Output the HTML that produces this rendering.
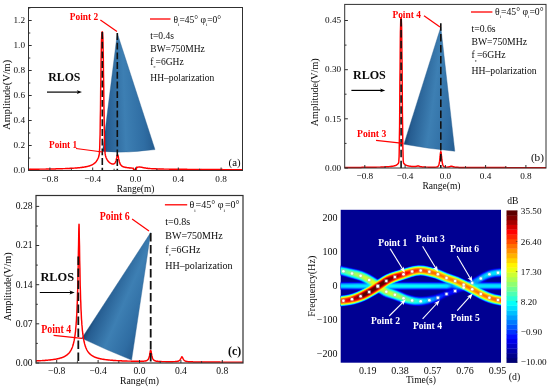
<!DOCTYPE html>
<html><head><meta charset="utf-8"><title>Figure</title>
<style>
html,body{margin:0;padding:0;background:#fff;}
svg{display:block;}
svg text{font-family:"Liberation Serif", serif;}
</style></head><body>
<svg width="550" height="389" viewBox="0 0 550 389" fill="#0a0a0a">
<rect width="550" height="389" fill="#fff"/>
<defs>
<linearGradient id="ga" gradientUnits="userSpaceOnUse" x1="102.5" y1="151.5" x2="155" y2="149.6"><stop offset="0" stop-color="#17406a"/><stop offset="0.1" stop-color="#265d91"/><stop offset="0.45" stop-color="#3d7fb3"/><stop offset="0.8" stop-color="#2f6da3"/><stop offset="1" stop-color="#255c90"/></linearGradient>
<linearGradient id="gb" gradientUnits="userSpaceOnUse" x1="403.9" y1="144.2" x2="454.8" y2="151.2"><stop offset="0" stop-color="#17406a"/><stop offset="0.1" stop-color="#265d91"/><stop offset="0.45" stop-color="#3d7fb3"/><stop offset="0.8" stop-color="#2f6da3"/><stop offset="1" stop-color="#255c90"/></linearGradient>
<linearGradient id="gc" gradientUnits="userSpaceOnUse" x1="81.8" y1="338.3" x2="131.6" y2="360.1"><stop offset="0" stop-color="#17406a"/><stop offset="0.1" stop-color="#265d91"/><stop offset="0.45" stop-color="#3d7fb3"/><stop offset="0.8" stop-color="#2f6da3"/><stop offset="1" stop-color="#255c90"/></linearGradient>
</defs>
<path d="M117.3 33.3 L102.5 151.5 Q128.8 153.4 155 149.6 Z" fill="url(#ga)" stroke="#2a5f90" stroke-width="0.4"/>
<path d="M28.5 169.3 L28.6 169.3 L28.8 169.3 L28.9 169.3 L29 169.3 L29.2 169.3 L29.3 169.3 L29.4 169.3 L29.6 169.3 L29.7 169.3 L29.8 169.3 L30 169.3 L30.1 169.3 L30.2 169.3 L30.4 169.3 L30.5 169.3 L30.6 169.3 L30.8 169.3 L30.9 169.3 L31 169.2 L31.2 169.2 L31.3 169.2 L31.4 169.2 L31.6 169.2 L31.7 169.2 L31.8 169.2 L32 169.2 L32.1 169.2 L32.2 169.2 L32.4 169.2 L32.5 169.2 L32.6 169.2 L32.8 169.2 L32.9 169.2 L33 169.2 L33.2 169.2 L33.3 169.2 L33.4 169.2 L33.6 169.2 L33.7 169.2 L33.9 169.2 L34 169.2 L34.1 169.2 L34.3 169.2 L34.4 169.2 L34.5 169.2 L34.7 169.2 L34.8 169.2 L34.9 169.2 L35.1 169.2 L35.2 169.2 L35.3 169.2 L35.5 169.2 L35.6 169.2 L35.7 169.2 L35.9 169.2 L36 169.2 L36.1 169.2 L36.3 169.2 L36.4 169.2 L36.5 169.2 L36.7 169.2 L36.8 169.2 L36.9 169.2 L37.1 169.2 L37.2 169.2 L37.3 169.2 L37.5 169.2 L37.6 169.2 L37.7 169.2 L37.9 169.2 L38 169.2 L38.1 169.2 L38.3 169.2 L38.4 169.2 L38.5 169.2 L38.7 169.2 L38.8 169.2 L38.9 169.2 L39.1 169.2 L39.2 169.2 L39.3 169.2 L39.5 169.1 L39.6 169.1 L39.7 169.1 L39.9 169.1 L40 169.1 L40.1 169.1 L40.3 169.1 L40.4 169.1 L40.5 169.1 L40.7 169.1 L40.8 169.1 L40.9 169.1 L41.1 169.1 L41.2 169.1 L41.3 169.1 L41.5 169.1 L41.6 169.1 L41.7 169.1 L41.9 169.1 L42 169.1 L42.1 169.1 L42.3 169.1 L42.4 169.1 L42.5 169.1 L42.7 169.1 L42.8 169.1 L42.9 169.1 L43.1 169.1 L43.2 169.1 L43.3 169.1 L43.5 169.1 L43.6 169.1 L43.7 169.1 L43.9 169.1 L44 169.1 L44.1 169.1 L44.3 169.1 L44.4 169.1 L44.5 169.1 L44.7 169.1 L44.8 169.1 L45 169.1 L45.1 169.1 L45.2 169.1 L45.4 169.1 L45.5 169.1 L45.6 169.1 L45.8 169.1 L45.9 169.1 L46 169 L46.2 169 L46.3 169 L46.4 169 L46.6 169 L46.7 169 L46.8 169 L47 169 L47.1 169 L47.2 169 L47.4 169 L47.5 169 L47.6 169 L47.8 169 L47.9 169 L48 169 L48.2 169 L48.3 169 L48.4 169 L48.6 169 L48.7 169 L48.8 169 L49 169 L49.1 169 L49.2 169 L49.4 169 L49.5 169 L49.6 169 L49.8 169 L49.9 169 L50 169 L50.2 169 L50.3 169 L50.4 169 L50.6 169 L50.7 169 L50.8 169 L51 169 L51.1 169 L51.2 169 L51.4 168.9 L51.5 168.9 L51.6 168.9 L51.8 168.9 L51.9 168.9 L52 168.9 L52.2 168.9 L52.3 168.9 L52.4 168.9 L52.6 168.9 L52.7 168.9 L52.8 168.9 L53 168.9 L53.1 168.9 L53.2 168.9 L53.4 168.9 L53.5 168.9 L53.6 168.9 L53.8 168.9 L53.9 168.9 L54 168.9 L54.2 168.9 L54.3 168.9 L54.4 168.9 L54.6 168.9 L54.7 168.9 L54.8 168.9 L55 168.9 L55.1 168.9 L55.2 168.9 L55.4 168.9 L55.5 168.9 L55.7 168.9 L55.8 168.8 L55.9 168.8 L56.1 168.8 L56.2 168.8 L56.3 168.8 L56.5 168.8 L56.6 168.8 L56.7 168.8 L56.9 168.8 L57 168.8 L57.1 168.8 L57.3 168.8 L57.4 168.8 L57.5 168.8 L57.7 168.8 L57.8 168.8 L57.9 168.8 L58.1 168.8 L58.2 168.8 L58.3 168.8 L58.5 168.8 L58.6 168.8 L58.7 168.8 L58.9 168.8 L59 168.8 L59.1 168.8 L59.3 168.8 L59.4 168.8 L59.5 168.7 L59.7 168.7 L59.8 168.7 L59.9 168.7 L60.1 168.7 L60.2 168.7 L60.3 168.7 L60.5 168.7 L60.6 168.7 L60.7 168.7 L60.9 168.7 L61 168.7 L61.1 168.7 L61.3 168.7 L61.4 168.7 L61.5 168.7 L61.7 168.7 L61.8 168.7 L61.9 168.7 L62.1 168.7 L62.2 168.7 L62.3 168.7 L62.5 168.7 L62.6 168.6 L62.7 168.6 L62.9 168.6 L63 168.6 L63.1 168.6 L63.3 168.6 L63.4 168.6 L63.5 168.6 L63.7 168.6 L63.8 168.6 L63.9 168.6 L64.1 168.6 L64.2 168.6 L64.3 168.6 L64.5 168.6 L64.6 168.6 L64.7 168.6 L64.9 168.6 L65 168.6 L65.1 168.6 L65.3 168.6 L65.4 168.5 L65.5 168.5 L65.7 168.5 L65.8 168.5 L66 168.5 L66.1 168.5 L66.2 168.5 L66.4 168.5 L66.5 168.5 L66.6 168.5 L66.8 168.5 L66.9 168.5 L67 168.5 L67.2 168.5 L67.3 168.5 L67.4 168.5 L67.6 168.5 L67.7 168.5 L67.8 168.4 L68 168.4 L68.1 168.4 L68.2 168.4 L68.4 168.4 L68.5 168.4 L68.6 168.4 L68.8 168.4 L68.9 168.4 L69 168.4 L69.2 168.4 L69.3 168.4 L69.4 168.4 L69.6 168.4 L69.7 168.4 L69.8 168.3 L70 168.3 L70.1 168.3 L70.2 168.3 L70.4 168.3 L70.5 168.3 L70.6 168.3 L70.8 168.3 L70.9 168.3 L71 168.3 L71.2 168.3 L71.3 168.3 L71.4 168.3 L71.6 168.3 L71.7 168.2 L71.8 168.2 L72 168.2 L72.1 168.2 L72.2 168.2 L72.4 168.2 L72.5 168.2 L72.6 168.2 L72.8 168.2 L72.9 168.2 L73 168.2 L73.2 168.2 L73.3 168.2 L73.4 168.1 L73.6 168.1 L73.7 168.1 L73.8 168.1 L74 168.1 L74.1 168.1 L74.2 168.1 L74.4 168.1 L74.5 168.1 L74.6 168.1 L74.8 168.1 L74.9 168 L75 168 L75.2 168 L75.3 168 L75.4 168 L75.6 168 L75.7 168 L75.8 168 L76 168 L76.1 168 L76.2 167.9 L76.4 167.9 L76.5 167.9 L76.7 167.9 L76.8 167.9 L76.9 167.9 L77.1 167.9 L77.2 167.9 L77.3 167.9 L77.5 167.8 L77.6 167.8 L77.7 167.8 L77.9 167.8 L78 167.8 L78.1 167.8 L78.3 167.8 L78.4 167.8 L78.5 167.7 L78.7 167.7 L78.8 167.7 L78.9 167.7 L79.1 167.7 L79.2 167.7 L79.3 167.7 L79.5 167.7 L79.6 167.6 L79.7 167.6 L79.9 167.6 L80 167.6 L80.1 167.6 L80.3 167.6 L80.4 167.6 L80.5 167.5 L80.7 167.5 L80.8 167.5 L80.9 167.5 L81.1 167.5 L81.2 167.5 L81.3 167.4 L81.5 167.4 L81.6 167.4 L81.7 167.4 L81.9 167.4 L82 167.4 L82.1 167.3 L82.3 167.3 L82.4 167.3 L82.5 167.3 L82.7 167.3 L82.8 167.3 L82.9 167.2 L83.1 167.2 L83.2 167.2 L83.3 167.2 L83.5 167.2 L83.6 167.1 L83.7 167.1 L83.9 167.1 L84 167.1 L84.1 167.1 L84.3 167 L84.4 167 L84.5 167 L84.7 167 L84.8 166.9 L84.9 166.9 L85.1 166.9 L85.2 166.9 L85.3 166.8 L85.5 166.8 L85.6 166.8 L85.7 166.8 L85.9 166.7 L86 166.7 L86.1 166.7 L86.3 166.7 L86.4 166.6 L86.5 166.6 L86.7 166.6 L86.8 166.5 L86.9 166.5 L87.1 166.5 L87.2 166.5 L87.3 166.4 L87.5 166.4 L87.6 166.4 L87.8 166.3 L87.9 166.3 L88 166.3 L88.2 166.2 L88.3 166.2 L88.4 166.2 L88.6 166.1 L88.7 166.1 L88.8 166 L89 166 L89.1 166 L89.2 165.9 L89.4 165.9 L89.5 165.8 L89.6 165.8 L89.8 165.7 L89.9 165.7 L90 165.7 L90.2 165.6 L90.3 165.6 L90.4 165.5 L90.6 165.5 L90.7 165.4 L90.8 165.4 L91 165.3 L91.1 165.3 L91.2 165.2 L91.4 165.1 L91.5 165.1 L91.6 165 L91.8 165 L91.9 164.9 L92 164.8 L92.2 164.8 L92.3 164.7 L92.4 164.6 L92.6 164.6 L92.7 164.5 L92.8 164.4 L93 164.3 L93.1 164.2 L93.2 164.2 L93.4 164.1 L93.5 164 L93.6 163.9 L93.8 163.8 L93.9 163.7 L94 163.6 L94.2 163.5 L94.3 163.4 L94.4 163.3 L94.6 163.2 L94.7 163.1 L94.8 163 L95 162.9 L95.1 162.7 L95.2 162.6 L95.4 162.5 L95.5 162.3 L95.6 162.2 L95.8 162 L95.9 161.9 L96 161.7 L96.2 161.6 L96.3 161.4 L96.4 161.2 L96.6 161 L96.7 160.8 L96.8 160.6 L97 160.4 L97.1 160.2 L97.2 160 L97.4 159.7 L97.5 159.5 L97.6 159.2 L97.8 158.9 L97.9 158.7 L98 158.4 L98.2 158 L98.3 157.7 L98.5 157.4 L98.6 157 L98.7 156.6 L98.9 156.1 L99 155.6 L99.1 154.9 L99.3 153.9 L99.4 152.6 L99.5 150.8 L99.7 148.3 L99.8 144.7 L99.9 140.1 L100.1 134.2 L100.2 126.9 L100.3 118.4 L100.5 108.9 L100.6 98.7 L100.7 88.1 L100.9 77.7 L101 67.9 L101.1 59 L101.3 51.2 L101.4 44.9 L101.5 40 L101.7 36.4 L101.8 34 L101.9 32.6 L102.1 31.9 L102.2 31.8 L102.3 31.8 L102.5 32.3 L102.6 33.3 L102.7 35.3 L102.9 38.4 L103 42.7 L103.1 48.5 L103.3 55.7 L103.4 64.1 L103.5 73.6 L103.7 83.9 L103.8 94.4 L103.9 104.8 L104.1 114.7 L104.2 123.6 L104.3 131.4 L104.5 137.8 L104.6 143 L104.7 146.9 L104.9 149.8 L105 151.9 L105.1 153.4 L105.3 154.4 L105.4 155.2 L105.5 155.8 L105.7 156.3 L105.8 156.7 L105.9 157.1 L106.1 157.4 L106.2 157.8 L106.3 158.1 L106.5 158.4 L106.6 158.7 L106.7 159 L106.9 159.2 L107 159.5 L107.1 159.7 L107.3 159.9 L107.4 160.1 L107.5 160.3 L107.7 160.5 L107.8 160.7 L107.9 160.9 L108.1 161.1 L108.2 161.3 L108.3 161.4 L108.5 161.6 L108.6 161.7 L108.8 161.9 L108.9 162 L109 162.1 L109.2 162.2 L109.3 162.4 L109.4 162.5 L109.6 162.6 L109.7 162.7 L109.8 162.8 L110 162.9 L110.1 163 L110.2 163.1 L110.4 163.2 L110.5 163.2 L110.6 163.3 L110.8 163.4 L110.9 163.4 L111 163.5 L111.2 163.6 L111.3 163.6 L111.4 163.7 L111.6 163.7 L111.7 163.8 L111.8 163.8 L112 163.9 L112.1 163.9 L112.2 163.9 L112.4 164 L112.5 164 L112.6 164 L112.8 164 L112.9 164 L113 164 L113.2 164 L113.3 164 L113.4 164 L113.6 164 L113.7 163.9 L113.8 163.9 L114 163.8 L114.1 163.8 L114.2 163.7 L114.4 163.6 L114.5 163.5 L114.6 163.4 L114.8 163.3 L114.9 163.1 L115 162.9 L115.2 162.7 L115.3 162.5 L115.4 162.2 L115.6 161.9 L115.7 161.6 L115.8 161.2 L116 160.8 L116.1 160.4 L116.2 159.9 L116.4 159.3 L116.5 158.7 L116.6 158.1 L116.8 157.4 L116.9 156.8 L117 156.2 L117.2 155.6 L117.3 155.1 L117.4 154.8 L117.6 154.7 L117.7 154.8 L117.8 155 L118 155.4 L118.1 155.9 L118.2 156.5 L118.4 157.2 L118.5 157.9 L118.6 158.7 L118.8 159.3 L118.9 160 L119 160.6 L119.2 161.2 L119.3 161.7 L119.5 162.1 L119.6 162.6 L119.7 162.9 L119.9 163.3 L120 163.6 L120.1 163.9 L120.3 164.1 L120.4 164.4 L120.5 164.6 L120.7 164.8 L120.8 165 L120.9 165.1 L121.1 165.3 L121.2 165.4 L121.3 165.5 L121.5 165.7 L121.6 165.8 L121.7 165.9 L121.9 166 L122 166.1 L122.1 166.2 L122.3 166.2 L122.4 166.3 L122.5 166.4 L122.7 166.4 L122.8 166.5 L122.9 166.6 L123.1 166.6 L123.2 166.7 L123.3 166.7 L123.5 166.8 L123.6 166.8 L123.7 166.9 L123.9 166.9 L124 166.9 L124.1 167 L124.3 167 L124.4 167.1 L124.5 167.1 L124.7 167.1 L124.8 167.2 L124.9 167.2 L125.1 167.2 L125.2 167.2 L125.3 167.3 L125.5 167.3 L125.6 167.3 L125.7 167.4 L125.9 167.4 L126 167.4 L126.1 167.4 L126.3 167.4 L126.4 167.5 L126.5 167.5 L126.7 167.5 L126.8 167.5 L126.9 167.6 L127.1 167.6 L127.2 167.6 L127.3 167.6 L127.5 167.6 L127.6 167.6 L127.7 167.7 L127.9 167.7 L128 167.7 L128.1 167.7 L128.3 167.7 L128.4 167.7 L128.5 167.8 L128.7 167.8 L128.8 167.8 L128.9 167.8 L129.1 167.8 L129.2 167.8 L129.3 167.9 L129.5 167.9 L129.6 167.9 L129.7 167.9 L129.9 167.9 L130 167.9 L130.2 167.9 L130.3 167.9 L130.4 168 L130.6 168 L130.7 168 L130.8 168 L131 168 L131.1 168 L131.2 168 L131.4 168 L131.5 168 L131.6 168.1 L131.8 168.1 L131.9 168.1 L132 168.1 L132.2 168.1 L132.3 168.1 L132.4 168.1 L132.6 168.1 L132.7 168.1 L132.8 168.2 L133 168.2 L133.1 168.2 L133.2 168.2 L133.4 168.2 L133.5 169.5 L133.6 169.5 L133.8 169.5 L133.9 169.5 L134 169.5 L134.2 169.5 L134.3 169.5 L134.4 169.5 L134.6 169.5 L134.7 169.5 L134.8 169.5 L135 169.5 L135.1 169.5 L135.2 169.5 L135.4 169.5 L135.5 169.5 L135.6 169.2 L135.8 169.2 L135.9 169.2 L136 169.2 L136.2 169.2 L136.3 169.2 L136.4 169.2 L136.6 167.3 L136.7 167.3 L136.8 167.2 L137 167.2 L137.1 167.2 L137.2 167.2 L137.4 167.2 L137.5 167.2 L137.6 167.1 L137.8 167.1 L137.9 167.1 L138 167.1 L138.2 167.1 L138.3 167.1 L138.4 167.1 L138.6 167.1 L138.7 167 L138.8 167 L139 167 L139.1 167 L139.2 167 L139.4 167 L139.5 167 L139.6 167 L139.8 167 L139.9 167 L140 167 L140.2 167.1 L140.3 167.1 L140.4 167.1 L140.6 167.1 L140.7 167.1 L140.9 167.1 L141 167.2 L141.1 167.2 L141.3 167.2 L141.4 167.2 L141.5 167.2 L141.7 167.3 L141.8 167.3 L141.9 167.3 L142.1 167.4 L142.2 167.4 L142.3 167.4 L142.5 167.4 L142.6 167.5 L142.7 167.5 L142.9 167.5 L143 167.6 L143.1 167.6 L143.3 167.6 L143.4 167.6 L143.5 167.7 L143.7 167.7 L143.8 167.7 L143.9 167.7 L144.1 167.8 L144.2 167.8 L144.3 167.8 L144.5 167.9 L144.6 167.9 L144.7 167.9 L144.9 167.9 L145 168 L145.1 168 L145.3 168 L145.4 168 L145.5 168 L145.7 168.1 L145.8 168.1 L145.9 168.1 L146.1 168.1 L146.2 168.1 L146.3 168.2 L146.5 168.2 L146.6 168.2 L146.7 168.2 L146.9 168.2 L147 168.3 L147.1 168.3 L147.3 168.3 L147.4 168.3 L147.5 168.3 L147.7 168.3 L147.8 168.3 L147.9 168.4 L148.1 168.4 L148.2 168.4 L148.3 168.4 L148.5 168.4 L148.6 168.4 L148.7 168.4 L148.9 168.4 L149 168.5 L149.1 168.5 L149.3 168.5 L149.4 168.5 L149.5 168.5 L149.7 168.5 L149.8 168.5 L149.9 168.5 L150.1 168.5 L150.2 168.6 L150.3 168.6 L150.5 168.6 L150.6 168.6 L150.7 168.6 L150.9 168.6 L151 168.6 L151.1 168.6 L151.3 168.6 L151.4 168.6 L151.6 168.6 L151.7 168.7 L151.8 168.7 L152 168.7 L152.1 168.7 L152.2 168.7 L152.4 168.7 L152.5 168.7 L152.6 168.7 L152.8 168.7 L152.9 168.7 L153 168.7 L153.2 168.7 L153.3 168.7 L153.4 168.7 L153.6 168.7 L153.7 168.8 L153.8 168.8 L154 168.8 L154.1 168.8 L154.2 168.8 L154.4 168.8 L154.5 168.8 L154.6 168.8 L154.8 168.8 L154.9 168.8 L155 168.8 L155.2 168.8 L155.3 168.8 L155.4 168.8 L155.6 168.8 L155.7 168.8 L155.8 168.8 L156 168.8 L156.1 168.8 L156.2 168.9 L156.4 168.9 L156.5 168.9 L156.6 168.9 L156.8 168.9 L156.9 168.9 L157 168.9 L157.2 168.9 L157.3 168.9 L157.4 168.9 L157.6 168.9 L157.7 168.9 L157.8 168.9 L158 168.9 L158.1 168.9 L158.2 168.9 L158.4 168.9 L158.5 168.9 L158.6 168.9 L158.8 168.9 L158.9 168.9 L159 168.9 L159.2 168.9 L159.3 168.9 L159.4 169 L159.6 169 L159.7 169 L159.8 169 L160 169 L160.1 169 L160.2 169 L160.4 169 L160.5 169 L160.6 169 L160.8 169 L160.9 169 L161 169 L161.2 169 L161.3 169 L161.4 169 L161.6 169 L161.7 169 L161.8 169 L162 169 L162.1 169 L162.2 169 L162.4 169 L162.5 169 L162.7 169 L162.8 169 L162.9 169 L163.1 169 L163.2 169 L163.3 169 L163.5 169 L163.6 169 L163.7 169.1 L163.9 169.1 L164 169.1 L164.1 169.1 L164.3 169.1 L164.4 169.1 L164.5 169.1 L164.7 169.1 L164.8 169.1 L164.9 169.1 L165.1 169.1 L165.2 169.1 L165.3 169.1 L165.5 169.1 L165.6 169.1 L165.7 169.1 L165.9 169.1 L166 169.1 L166.1 169.1 L166.3 169.1 L166.4 169.1 L166.5 169.1 L166.7 169.1 L166.8 169.1 L166.9 169.1 L167.1 169.1 L167.2 169.1 L167.3 169.1 L167.5 169.1 L167.6 169.1 L167.7 169.1 L167.9 169.1 L168 169.1 L168.1 169.1 L168.3 169.1 L168.4 169.1 L168.5 169.1 L168.7 169.1 L168.8 169.1 L168.9 169.1 L169.1 169.1 L169.2 169.1 L169.3 169.2 L169.5 169.2 L169.6 169.2 L169.7 169.2 L169.9 169.2 L170 169.2 L170.1 169.2 L170.3 169.2 L170.4 169.2 L170.5 169.2 L170.7 169.2 L170.8 169.2 L170.9 169.2 L171.1 169.2 L171.2 169.2 L171.3 169.2 L171.5 169.2 L171.6 169.2 L171.7 169.2 L171.9 169.2 L172 169.2 L172.1 169.2 L172.3 169.2 L172.4 169.2 L172.5 169.2 L172.7 169.2 L172.8 169.2 L173 169.2 L173.1 169.2 L173.2 169.2 L173.4 169.2 L173.5 169.2 L173.6 169.2 L173.8 169.2 L173.9 169.2 L174 169.2 L174.2 169.2 L174.3 169.2 L174.4 169.2 L174.6 169.2 L174.7 169.2 L174.8 169.2 L175 169.2 L175.1 169.2 L175.2 169.2 L175.4 169.2 L175.5 169.2 L175.6 169.2 L175.8 169.2 L175.9 169.2 L176 169.2 L176.2 169.2 L176.3 169.2 L176.4 169.2 L176.6 169.2 L176.7 169.2 L176.8 169.2 L177 169.3 L177.1 169.3 L177.2 169.3 L177.4 169.3 L177.5 169.3 L177.6 169.3 L177.8 169.3 L177.9 169.3 L178 169.3 L178.2 169.3 L178.3 169.3 L178.4 169.3 L178.6 169.3 L178.7 169.3 L178.8 169.3 L179 169.3 L179.1 169.3 L179.2 169.3 L179.4 169.3 L179.5 169.3 L179.6 169.3 L179.8 169.3 L179.9 169.3 L180 169.3 L180.2 169.3 L180.3 169.3 L180.4 169.3 L180.6 169.3 L180.7 169.3 L180.8 169.3 L181 169.3 L181.1 169.3 L181.2 169.3 L181.4 169.3 L181.5 169.3 L181.6 169.3 L181.8 169.3 L181.9 169.3 L182 169.3 L182.2 169.3 L182.3 169.3 L182.4 169.3 L182.6 169.3 L182.7 169.3 L182.8 169.3 L183 169.3 L183.1 169.3 L183.2 169.3 L183.4 169.3 L183.5 169.3 L183.7 169.3 L183.8 169.3 L183.9 169.3 L184.1 169.3 L184.2 169.3 L184.3 169.3 L184.5 169.3 L184.6 169.3 L184.7 169.3 L184.9 169.3 L185 169.3 L185.1 169.3 L185.3 169.3 L185.4 169.3 L185.5 169.3 L185.7 169.3 L185.8 169.3 L185.9 169.3 L186.1 169.3 L186.2 169.3 L186.3 169.3 L186.5 169.3 L186.6 169.3 L186.7 169.3 L186.9 169.3 L187 169.3 L187.1 169.3 L187.3 169.4 L187.4 169.4 L187.5 169.4 L187.7 169.4 L187.8 169.4 L187.9 169.4 L188.1 169.4 L188.2 169.4 L188.3 169.4 L188.5 169.4 L188.6 169.4 L188.7 169.4 L188.9 169.4 L189 169.4 L189.1 169.4 L189.3 169.4 L189.4 169.4 L189.5 169.4 L189.7 169.4 L189.8 169.4 L189.9 169.4 L190.1 169.4 L190.2 169.4 L190.3 169.4 L190.5 169.4 L190.6 169.4 L190.7 169.4 L190.9 169.4 L191 169.4 L191.1 169.4 L191.3 169.4 L191.4 169.4 L191.5 169.4 L191.7 169.4 L191.8 169.4 L191.9 169.4 L192.1 169.4 L192.2 169.4 L192.3 169.4 L192.5 169.4 L192.6 169.4 L192.7 169.4 L192.9 169.4 L193 169.4 L193.1 169.4 L193.3 169.4 L193.4 169.4 L193.5 169.4 L193.7 169.4 L193.8 169.4 L193.9 169.4 L194.1 169.4 L194.2 169.4 L194.3 169.4 L194.5 169.4 L194.6 169.4 L194.8 169.4 L194.9 169.4 L195 169.4 L195.2 169.4 L195.3 169.4 L195.4 169.4 L195.6 169.4 L195.7 169.4 L195.8 169.4 L196 169.4 L196.1 169.4 L196.2 169.4 L196.4 169.4 L196.5 169.4 L196.6 169.4 L196.8 169.4 L196.9 169.4 L197 169.4 L197.2 169.4 L197.3 169.4 L197.4 169.4 L197.6 169.4 L197.7 169.4 L197.8 169.4 L198 169.4 L198.1 169.4 L198.2 169.4 L198.4 169.4 L198.5 169.4 L198.6 169.4 L198.8 169.4 L198.9 169.4 L199 169.4 L199.2 169.4 L199.3 169.4 L199.4 169.4 L199.6 169.4 L199.7 169.4 L199.8 169.4 L200 169.4 L200.1 169.4 L200.2 169.4 L200.4 169.4 L200.5 169.4 L200.6 169.4 L200.8 169.4 L200.9 169.4 L201 169.4 L201.2 169.4 L201.3 169.4 L201.4 169.4 L201.6 169.4 L201.7 169.5 L201.8 169.5 L202 169.5 L202.1 169.5 L202.2 169.5 L202.4 169.5 L202.5 169.5 L202.6 169.5 L202.8 169.5 L202.9 169.5 L203 169.5 L203.2 169.5 L203.3 169.5 L203.4 169.5 L203.6 169.5 L203.7 169.5 L203.8 169.5 L204 169.5 L204.1 169.5 L204.2 169.5 L204.4 169.5 L204.5 169.5 L204.6 169.5 L204.8 169.5 L204.9 169.5 L205.1 169.5 L205.2 169.5 L205.3 169.5 L205.5 169.5 L205.6 169.5 L205.7 169.5 L205.9 169.5 L206 169.5 L206.1 169.5 L206.3 169.5 L206.4 169.5 L206.5 169.5 L206.7 169.5 L206.8 169.5 L206.9 169.5 L207.1 169.5 L207.2 169.5 L207.3 169.5 L207.5 169.5 L207.6 169.5 L207.7 169.5 L207.9 169.5 L208 169.5 L208.1 169.5 L208.3 169.5 L208.4 169.5 L208.5 169.5 L208.7 169.5 L208.8 169.5 L208.9 169.5 L209.1 169.5 L209.2 169.5 L209.3 169.5 L209.5 169.5 L209.6 169.5 L209.7 169.5 L209.9 169.5 L210 169.5 L210.1 169.5 L210.3 169.5 L210.4 169.5 L210.5 169.5 L210.7 169.5 L210.8 169.5 L210.9 169.5 L211.1 169.5 L211.2 169.5 L211.3 169.5 L211.5 169.5 L211.6 169.5 L211.7 169.5 L211.9 169.5 L212 169.5 L212.1 169.5 L212.3 169.5 L212.4 169.5 L212.5 169.5 L212.7 169.5 L212.8 169.5 L212.9 169.5 L213.1 169.5 L213.2 169.5 L213.3 169.5 L213.5 169.5 L213.6 169.5 L213.7 169.5 L213.9 169.5 L214 169.5 L214.1 169.5 L214.3 169.5 L214.4 169.5 L214.5 169.5 L214.7 169.5 L214.8 169.5 L214.9 169.5 L215.1 169.5 L215.2 169.5 L215.3 169.5 L215.5 169.5 L215.6 169.5 L215.8 169.5 L215.9 169.5 L216 169.5 L216.2 169.5 L216.3 169.5 L216.4 169.5 L216.6 169.5 L216.7 169.5 L216.8 169.5 L217 169.5 L217.1 169.5 L217.2 169.5 L217.4 169.5 L217.5 169.5 L217.6 169.5 L217.8 169.5 L217.9 169.5 L218 169.5 L218.2 169.5 L218.3 169.5 L218.4 169.5 L218.6 169.5 L218.7 169.5 L218.8 169.5 L219 169.5 L219.1 169.5 L219.2 169.5 L219.4 169.5 L219.5 169.5 L219.6 169.5 L219.8 169.5 L219.9 169.5 L220 169.5 L220.2 169.5 L220.3 169.5 L220.4 169.5 L220.6 169.5 L220.7 169.5 L220.8 169.5 L221 169.5 L221.1 169.5 L221.2 169.5 L221.4 169.5 L221.5 169.5 L221.6 169.5 L221.8 169.5 L221.9 169.5 L222 169.5 L222.2 169.5 L222.3 169.5 L222.4 169.5 L222.6 169.5 L222.7 169.5 L222.8 169.6 L223 169.6 L223.1 169.6 L223.2 169.6 L223.4 169.6 L223.5 169.6 L223.6 169.6 L223.8 169.6 L223.9 169.6 L224 169.6 L224.2 169.6 L224.3 169.6 L224.4 169.6 L224.6 169.6 L224.7 169.6 L224.8 169.6 L225 169.6 L225.1 169.6 L225.2 169.6 L225.4 169.6 L225.5 169.6 L225.6 169.6 L225.8 169.6 L225.9 169.6 L226 169.6 L226.2 169.6 L226.3 169.6 L226.5 169.6 L226.6 169.6 L226.7 169.6 L226.9 169.6 L227 169.6 L227.1 169.6 L227.3 169.6 L227.4 169.6 L227.5 169.6 L227.7 169.6 L227.8 169.6 L227.9 169.6 L228.1 169.6 L228.2 169.6 L228.3 169.6 L228.5 169.6 L228.6 169.6 L228.7 169.6 L228.9 169.6 L229 169.6 L229.1 169.6 L229.3 169.6 L229.4 169.6 L229.5 169.6 L229.7 169.6 L229.8 169.6 L229.9 169.6 L230.1 169.6 L230.2 169.6 L230.3 169.6 L230.5 169.6 L230.6 169.6 L230.7 169.6 L230.9 169.6 L231 169.6 L231.1 169.6 L231.3 169.6 L231.4 169.6 L231.5 169.6 L231.7 169.6 L231.8 169.6 L231.9 169.6 L232.1 169.6 L232.2 169.6 L232.3 169.6 L232.5 169.6 L232.6 169.6 L232.7 169.6 L232.9 169.6 L233 169.6 L233.1 169.6 L233.3 169.6 L233.4 169.6 L233.5 169.6 L233.7 169.6 L233.8 169.6 L233.9 169.6 L234.1 169.6 L234.2 169.6 L234.3 169.6 L234.5 169.6 L234.6 169.6 L234.7 169.6 L234.9 169.6 L235 169.6 L235.1 169.6 L235.3 169.6 L235.4 169.6 L235.5 169.6 L235.7 169.6 L235.8 169.6 L235.9 169.6 L236.1 169.6 L236.2 169.6 L236.3 169.6 L236.5 169.6 L236.6 169.6 L236.7 169.6 L236.9 169.6 L237 169.6 L237.2 169.6 L237.3 169.6 L237.4 169.6 L237.6 169.6 L237.7 169.6 L237.8 169.6 L238 169.6 L238.1 169.6 L238.2 169.6 L238.4 169.6 L238.5 169.6 L238.6 169.6 L238.8 169.6 L238.9 169.6 L239 169.6 L239.2 169.6 L239.3 169.6 L239.4 169.6 L239.6 169.6 L239.7 169.6 L239.8 169.6 L240 169.6 L240.1 169.6 L240.2 169.6 L240.4 169.6 L240.5 169.6 L240.6 169.6 L240.8 169.6 L240.9 169.6 L241 169.6 L241.2 169.6 L241.3 169.6 L241.4 169.6 L241.6 169.6 L241.7 169.6 L241.8 169.6 L242 169.6 L242.1 169.6 L242.2 169.6 L242.4 169.6 L242.5 169.6" fill="none" stroke="#f00" stroke-width="1.45" stroke-linejoin="round"/>
<line x1="102.3" y1="32" x2="102.3" y2="170.5" stroke="#111" stroke-width="1.6" stroke-dasharray="6.9 2.8"/>
<line x1="117.3" y1="33" x2="117.3" y2="170.5" stroke="#111" stroke-width="1.6" stroke-dasharray="6.9 2.8"/>
<rect x="28.5" y="7.5" width="214" height="163" fill="none" stroke="#303030" stroke-width="1"/>
<line x1="49.9" y1="170.5" x2="49.9" y2="167.5" stroke="#303030" stroke-width="1"/>
<text x="49.9" y="181.5" font-size="9.2" text-anchor="middle">−0.8</text>
<line x1="92.7" y1="170.5" x2="92.7" y2="167.5" stroke="#303030" stroke-width="1"/>
<text x="92.7" y="181.5" font-size="9.2" text-anchor="middle">−0.4</text>
<line x1="135.5" y1="170.5" x2="135.5" y2="167.5" stroke="#303030" stroke-width="1"/>
<text x="135.5" y="181.5" font-size="9.2" text-anchor="middle">0.0</text>
<line x1="178.3" y1="170.5" x2="178.3" y2="167.5" stroke="#303030" stroke-width="1"/>
<text x="178.3" y="181.5" font-size="9.2" text-anchor="middle">0.4</text>
<line x1="221.1" y1="170.5" x2="221.1" y2="167.5" stroke="#303030" stroke-width="1"/>
<text x="221.1" y="181.5" font-size="9.2" text-anchor="middle">0.8</text>
<line x1="71.3" y1="170.5" x2="71.3" y2="168.7" stroke="#303030" stroke-width="1"/>
<line x1="114.1" y1="170.5" x2="114.1" y2="168.7" stroke="#303030" stroke-width="1"/>
<line x1="156.9" y1="170.5" x2="156.9" y2="168.7" stroke="#303030" stroke-width="1"/>
<line x1="199.7" y1="170.5" x2="199.7" y2="168.7" stroke="#303030" stroke-width="1"/>
<line x1="28.5" y1="170.5" x2="31.7" y2="170.5" stroke="#303030" stroke-width="1"/>
<text x="25" y="173.2" font-size="9.2" text-anchor="end">0.0</text>
<line x1="28.5" y1="145.5" x2="31.7" y2="145.5" stroke="#303030" stroke-width="1"/>
<text x="25" y="148.2" font-size="9.2" text-anchor="end">0.2</text>
<line x1="28.5" y1="120.5" x2="31.7" y2="120.5" stroke="#303030" stroke-width="1"/>
<text x="25" y="123.2" font-size="9.2" text-anchor="end">0.4</text>
<line x1="28.5" y1="95.5" x2="31.7" y2="95.5" stroke="#303030" stroke-width="1"/>
<text x="25" y="98.2" font-size="9.2" text-anchor="end">0.6</text>
<line x1="28.5" y1="70.5" x2="31.7" y2="70.5" stroke="#303030" stroke-width="1"/>
<text x="25" y="73.2" font-size="9.2" text-anchor="end">0.8</text>
<line x1="28.5" y1="45.5" x2="31.7" y2="45.5" stroke="#303030" stroke-width="1"/>
<text x="25" y="48.2" font-size="9.2" text-anchor="end">1.0</text>
<line x1="28.5" y1="20.5" x2="31.7" y2="20.5" stroke="#303030" stroke-width="1"/>
<text x="25" y="23.2" font-size="9.2" text-anchor="end">1.2</text>
<line x1="28.5" y1="158" x2="30.3" y2="158" stroke="#303030" stroke-width="1"/>
<line x1="28.5" y1="133" x2="30.3" y2="133" stroke="#303030" stroke-width="1"/>
<line x1="28.5" y1="108" x2="30.3" y2="108" stroke="#303030" stroke-width="1"/>
<line x1="28.5" y1="83" x2="30.3" y2="83" stroke="#303030" stroke-width="1"/>
<line x1="28.5" y1="58" x2="30.3" y2="58" stroke="#303030" stroke-width="1"/>
<line x1="28.5" y1="33" x2="30.3" y2="33" stroke="#303030" stroke-width="1"/>
<line x1="28.5" y1="8" x2="30.3" y2="8" stroke="#303030" stroke-width="1"/>
<text x="135.6" y="191.5" font-size="9.4" text-anchor="middle">Range(m)</text>
<text transform="translate(9.9 94.8) rotate(-90)" font-size="10.4" text-anchor="middle">Amplitude(V/m)</text>
<line x1="150" y1="19" x2="170.5" y2="19" stroke="#f00" stroke-width="1.3"/>
<text x="173.5" y="22.5" font-size="9.5">θ<tspan font-size="4.8" dy="3.1">i</tspan><tspan dy="-3.1">=45° φ</tspan><tspan font-size="4.8" dy="3.1">i</tspan><tspan dy="-3.1">=0°</tspan></text>
<text x="150.3" y="38.7" font-size="9.5">t=0.4s</text>
<text x="150.3" y="51.7" font-size="9.5">BW=750MHz</text>
<text x="150.3" y="65.3" font-size="9.5">f<tspan font-size="4.8" dy="3.1">c</tspan><tspan dy="-3.1">=6GHz</tspan></text>
<text x="150.3" y="81" font-size="9.5">HH–polarization</text>
<text transform="translate(48.3 81) scale(1 1.08)" font-size="11.8" font-weight="bold">RLOS</text>
<line x1="47" y1="92.1" x2="79" y2="92.1" stroke="#000" stroke-width="1.2"/>
<path d="M82 92.1 l-5.2 -1.9 l1.2 1.9 l-1.2 1.9z" fill="#000"/>
<text transform="translate(69.8 20.2) scale(1 1.1)" font-size="9.4" font-weight="bold" fill="#f00">Point 2</text>
<line x1="100.4" y1="20" x2="117" y2="31.5" stroke="#f00" stroke-width="1.2"/>
<text transform="translate(49 147.6) scale(1 1.1)" font-size="9.3" font-weight="bold" fill="#f00">Point 1</text>
<line x1="76" y1="148.5" x2="102.5" y2="152" stroke="#f00" stroke-width="1.2"/>
<text x="228.6" y="165.8" font-size="10.8">(a)</text>
<path d="M440.8 27 L403.9 144.2 Q429.2 148.9 454.8 151.2 Z" fill="url(#gb)" stroke="#2a5f90" stroke-width="0.4"/>
<path d="M344.7 167.4 L344.8 167.4 L345 167.4 L345.1 167.4 L345.2 167.4 L345.3 167.4 L345.5 167.4 L345.6 167.4 L345.7 167.4 L345.8 167.4 L346 167.4 L346.1 167.4 L346.2 167.4 L346.3 167.4 L346.5 167.4 L346.6 167.4 L346.7 167.4 L346.8 167.4 L347 167.4 L347.1 167.4 L347.2 167.4 L347.3 167.4 L347.5 167.4 L347.6 167.4 L347.7 167.4 L347.8 167.4 L348 167.4 L348.1 167.4 L348.2 167.4 L348.3 167.4 L348.5 167.4 L348.6 167.4 L348.7 167.4 L348.9 167.4 L349 167.4 L349.1 167.4 L349.2 167.4 L349.4 167.4 L349.5 167.4 L349.6 167.4 L349.7 167.4 L349.9 167.4 L350 167.4 L350.1 167.4 L350.2 167.4 L350.4 167.4 L350.5 167.4 L350.6 167.4 L350.7 167.4 L350.9 167.4 L351 167.4 L351.1 167.4 L351.2 167.4 L351.4 167.4 L351.5 167.4 L351.6 167.4 L351.7 167.4 L351.9 167.4 L352 167.4 L352.1 167.4 L352.2 167.4 L352.4 167.4 L352.5 167.4 L352.6 167.4 L352.8 167.4 L352.9 167.4 L353 167.4 L353.1 167.4 L353.3 167.4 L353.4 167.4 L353.5 167.4 L353.6 167.4 L353.8 167.4 L353.9 167.4 L354 167.4 L354.1 167.4 L354.3 167.4 L354.4 167.4 L354.5 167.4 L354.6 167.4 L354.8 167.4 L354.9 167.4 L355 167.4 L355.1 167.4 L355.3 167.4 L355.4 167.4 L355.5 167.4 L355.6 167.4 L355.8 167.4 L355.9 167.4 L356 167.4 L356.1 167.4 L356.3 167.4 L356.4 167.4 L356.5 167.4 L356.7 167.4 L356.8 167.4 L356.9 167.4 L357 167.4 L357.2 167.4 L357.3 167.4 L357.4 167.4 L357.5 167.4 L357.7 167.4 L357.8 167.4 L357.9 167.4 L358 167.4 L358.2 167.4 L358.3 167.4 L358.4 167.4 L358.5 167.4 L358.7 167.4 L358.8 167.4 L358.9 167.4 L359 167.4 L359.2 167.4 L359.3 167.4 L359.4 167.4 L359.5 167.4 L359.7 167.4 L359.8 167.4 L359.9 167.4 L360 167.4 L360.2 167.4 L360.3 167.4 L360.4 167.4 L360.6 167.4 L360.7 167.4 L360.8 167.4 L360.9 167.4 L361.1 167.4 L361.2 167.4 L361.3 167.4 L361.4 167.4 L361.6 167.3 L361.7 167.3 L361.8 167.3 L361.9 167.3 L362.1 167.3 L362.2 167.3 L362.3 167.3 L362.4 167.3 L362.6 167.3 L362.7 167.3 L362.8 167.3 L362.9 167.3 L363.1 167.3 L363.2 167.3 L363.3 167.3 L363.4 167.3 L363.6 167.3 L363.7 167.3 L363.8 167.3 L363.9 167.3 L364.1 167.3 L364.2 167.3 L364.3 167.3 L364.5 167.3 L364.6 167.3 L364.7 167.3 L364.8 167.3 L365 167.3 L365.1 167.3 L365.2 167.3 L365.3 167.3 L365.5 167.3 L365.6 167.3 L365.7 167.3 L365.8 167.3 L366 167.3 L366.1 167.3 L366.2 167.3 L366.3 167.3 L366.5 167.3 L366.6 167.3 L366.7 167.3 L366.8 167.3 L367 167.3 L367.1 167.3 L367.2 167.3 L367.3 167.3 L367.5 167.3 L367.6 167.3 L367.7 167.3 L367.8 167.3 L368 167.3 L368.1 167.3 L368.2 167.3 L368.4 167.3 L368.5 167.3 L368.6 167.3 L368.7 167.3 L368.9 167.3 L369 167.3 L369.1 167.3 L369.2 167.3 L369.4 167.3 L369.5 167.3 L369.6 167.3 L369.7 167.3 L369.9 167.3 L370 167.3 L370.1 167.3 L370.2 167.3 L370.4 167.3 L370.5 167.3 L370.6 167.3 L370.7 167.3 L370.9 167.2 L371 167.2 L371.1 167.2 L371.2 167.2 L371.4 167.2 L371.5 167.2 L371.6 167.2 L371.7 167.2 L371.9 167.2 L372 167.2 L372.1 167.2 L372.3 167.2 L372.4 167.2 L372.5 167.2 L372.6 167.2 L372.8 167.2 L372.9 167.2 L373 167.2 L373.1 167.2 L373.3 167.2 L373.4 167.2 L373.5 167.2 L373.6 167.2 L373.8 167.2 L373.9 167.2 L374 167.2 L374.1 167.2 L374.3 167.2 L374.4 167.2 L374.5 167.2 L374.6 167.2 L374.8 167.2 L374.9 167.2 L375 167.2 L375.1 167.2 L375.3 167.2 L375.4 167.2 L375.5 167.2 L375.6 167.2 L375.8 167.2 L375.9 167.2 L376 167.2 L376.2 167.2 L376.3 167.2 L376.4 167.2 L376.5 167.2 L376.7 167.1 L376.8 167.1 L376.9 167.1 L377 167.1 L377.2 167.1 L377.3 167.1 L377.4 167.1 L377.5 167.1 L377.7 167.1 L377.8 167.1 L377.9 167.1 L378 167.1 L378.2 167.1 L378.3 167.1 L378.4 167.1 L378.5 167.1 L378.7 167.1 L378.8 167.1 L378.9 167.1 L379 167.1 L379.2 167.1 L379.3 167.1 L379.4 167.1 L379.6 167.1 L379.7 167.1 L379.8 167.1 L379.9 167.1 L380.1 167.1 L380.2 167.1 L380.3 167.1 L380.4 167.1 L380.6 167.1 L380.7 167 L380.8 167 L380.9 167 L381.1 167 L381.2 167 L381.3 167 L381.4 167 L381.6 167 L381.7 167 L381.8 167 L381.9 167 L382.1 167 L382.2 167 L382.3 167 L382.4 167 L382.6 167 L382.7 167 L382.8 167 L382.9 167 L383.1 167 L383.2 167 L383.3 167 L383.5 166.9 L383.6 166.9 L383.7 166.9 L383.8 166.9 L384 166.9 L384.1 166.9 L384.2 166.9 L384.3 166.9 L384.5 166.9 L384.6 166.9 L384.7 166.9 L384.8 166.9 L385 166.9 L385.1 166.9 L385.2 166.9 L385.3 166.9 L385.5 166.9 L385.6 166.8 L385.7 166.8 L385.8 166.8 L386 166.8 L386.1 166.8 L386.2 166.8 L386.3 166.8 L386.5 166.8 L386.6 166.8 L386.7 166.8 L386.8 166.8 L387 166.8 L387.1 166.8 L387.2 166.8 L387.4 166.7 L387.5 166.7 L387.6 166.7 L387.7 166.7 L387.9 166.7 L388 166.7 L388.1 166.7 L388.2 166.7 L388.4 166.7 L388.5 166.7 L388.6 166.7 L388.7 166.6 L388.9 166.6 L389 166.6 L389.1 166.6 L389.2 166.6 L389.4 166.6 L389.5 166.6 L389.6 166.6 L389.7 166.6 L389.9 166.5 L390 166.5 L390.1 166.5 L390.2 166.5 L390.4 166.5 L390.5 166.5 L390.6 166.5 L390.7 166.4 L390.9 166.4 L391 166.4 L391.1 166.4 L391.3 166.4 L391.4 166.4 L391.5 166.3 L391.6 166.3 L391.8 166.3 L391.9 166.3 L392 166.3 L392.1 166.3 L392.3 166.2 L392.4 166.2 L392.5 166.2 L392.6 166.2 L392.8 166.2 L392.9 166.1 L393 166.1 L393.1 166.1 L393.3 166.1 L393.4 166 L393.5 166 L393.6 166 L393.8 165.9 L393.9 165.9 L394 165.9 L394.1 165.9 L394.3 165.8 L394.4 165.8 L394.5 165.8 L394.6 165.7 L394.8 165.7 L394.9 165.6 L395 165.6 L395.2 165.6 L395.3 165.5 L395.4 165.5 L395.5 165.4 L395.7 165.4 L395.8 165.3 L395.9 165.3 L396 165.2 L396.2 165.2 L396.3 165.1 L396.4 165 L396.5 165 L396.7 164.9 L396.8 164.8 L396.9 164.7 L397 164.6 L397.2 164.6 L397.3 164.5 L397.4 164.4 L397.5 164.3 L397.7 164.1 L397.8 164 L397.9 163.9 L398 163.8 L398.2 163.6 L398.3 163.4 L398.4 163.2 L398.5 162.9 L398.7 162.3 L398.8 161.4 L398.9 159.7 L399.1 156.8 L399.2 152.4 L399.3 145.9 L399.4 137 L399.6 125.7 L399.7 112.2 L399.8 97.3 L399.9 81.7 L400.1 66.6 L400.2 52.8 L400.3 41.1 L400.4 31.9 L400.6 25.2 L400.7 21 L400.8 18.6 L400.9 17.7 L401.1 17.5 L401.2 17.7 L401.3 18.6 L401.4 21 L401.6 25.2 L401.7 31.9 L401.8 41.1 L401.9 52.8 L402.1 66.6 L402.2 81.7 L402.3 97.3 L402.4 112.2 L402.6 125.7 L402.7 137 L402.8 145.9 L403 152.4 L403.1 156.8 L403.2 159.7 L403.3 161.3 L403.5 162.3 L403.6 162.9 L403.7 163.2 L403.8 163.4 L404 163.6 L404.1 163.7 L404.2 163.9 L404.3 164 L404.5 164.1 L404.6 164.2 L404.7 164.3 L404.8 164.4 L405 164.5 L405.1 164.6 L405.2 164.7 L405.3 164.8 L405.5 164.9 L405.6 164.9 L405.7 165 L405.8 165.1 L406 165.1 L406.1 165.2 L406.2 165.2 L406.3 165.3 L406.5 165.4 L406.6 165.4 L406.7 165.4 L406.9 165.5 L407 165.5 L407.1 165.6 L407.2 165.6 L407.4 165.7 L407.5 165.7 L407.6 165.7 L407.7 165.8 L407.9 165.8 L408 165.8 L408.1 165.9 L408.2 165.9 L408.4 165.9 L408.5 165.9 L408.6 166 L408.7 166 L408.9 166 L409 166 L409.1 166.1 L409.2 166.1 L409.4 166.1 L409.5 166.1 L409.6 166.1 L409.7 166.2 L409.9 166.2 L410 166.2 L410.1 166.2 L410.2 166.2 L410.4 166.3 L410.5 166.3 L410.6 166.3 L410.8 166.3 L410.9 166.3 L411 166.3 L411.1 166.3 L411.3 166.4 L411.4 166.4 L411.5 166.4 L411.6 166.4 L411.8 166.4 L411.9 166.4 L412 166.4 L412.1 166.4 L412.3 166.4 L412.4 166.4 L412.5 166.5 L412.6 166.5 L412.8 166.5 L412.9 166.5 L413 166.5 L413.1 166.5 L413.3 166.5 L413.4 166.5 L413.5 166.5 L413.6 166.5 L413.8 166.5 L413.9 166.5 L414 166.5 L414.1 166.5 L414.3 166.5 L414.4 166.5 L414.5 166.5 L414.7 166.5 L414.8 166.5 L414.9 166.5 L415 166.5 L415.2 166.5 L415.3 166.5 L415.4 166.4 L415.5 166.4 L415.7 166.4 L415.8 166.4 L415.9 166.4 L416 166.4 L416.2 166.3 L416.3 166.3 L416.4 166.3 L416.5 166.3 L416.7 166.2 L416.8 166.2 L416.9 166.2 L417 166.1 L417.2 166.1 L417.3 166.1 L417.4 166 L417.5 166 L417.7 166 L417.8 166 L417.9 165.9 L418 165.9 L418.2 165.9 L418.3 166 L418.4 166 L418.6 166 L418.7 166 L418.8 166.1 L418.9 166.1 L419.1 166.1 L419.2 166.2 L419.3 166.2 L419.4 166.3 L419.6 166.3 L419.7 166.4 L419.8 166.4 L419.9 166.4 L420.1 166.5 L420.2 166.5 L420.3 166.5 L420.4 166.6 L420.6 166.6 L420.7 166.6 L420.8 166.7 L420.9 166.7 L421.1 166.7 L421.2 166.7 L421.3 166.8 L421.4 166.8 L421.6 166.8 L421.7 166.8 L421.8 166.8 L421.9 166.8 L422.1 166.9 L422.2 166.9 L422.3 166.9 L422.5 166.9 L422.6 166.9 L422.7 166.9 L422.8 166.9 L423 166.9 L423.1 166.9 L423.2 167 L423.3 167 L423.5 167 L423.6 167 L423.7 167 L423.8 167 L424 167 L424.1 167 L424.2 167 L424.3 167 L424.5 167 L424.6 167 L424.7 167 L424.8 167 L425 167.1 L425.1 167.1 L425.2 167.1 L425.3 167.1 L425.5 167.1 L425.6 167.1 L425.7 167.1 L425.8 167.1 L426 167.1 L426.1 167.1 L426.2 167.1 L426.4 167.1 L426.5 167.1 L426.6 167.1 L426.7 167.1 L426.9 167.1 L427 167.1 L427.1 167.1 L427.2 167.1 L427.4 167.1 L427.5 167.1 L427.6 167.1 L427.7 167.1 L427.9 167.1 L428 167.1 L428.1 167.2 L428.2 167.2 L428.4 167.2 L428.5 167.2 L428.6 167.2 L428.7 167.2 L428.9 167.2 L429 167.2 L429.1 167.2 L429.2 167.2 L429.4 167.2 L429.5 167.2 L429.6 167.2 L429.7 167.2 L429.9 167.2 L430 167.2 L430.1 167.2 L430.3 167.2 L430.4 167.2 L430.5 167.2 L430.6 167.2 L430.8 167.2 L430.9 167.2 L431 167.2 L431.1 167.2 L431.3 167.2 L431.4 167.2 L431.5 167.2 L431.6 167.2 L431.8 167.2 L431.9 167.2 L432 167.2 L432.1 167.2 L432.3 167.2 L432.4 167.2 L432.5 167.2 L432.6 167.2 L432.8 167.2 L432.9 167.2 L433 167.2 L433.1 167.2 L433.3 167.2 L433.4 167.2 L433.5 167.2 L433.6 167.2 L433.8 167.2 L433.9 167.2 L434 167.2 L434.2 167.2 L434.3 167.2 L434.4 167.2 L434.5 167.2 L434.7 167.2 L434.8 167.2 L434.9 167.2 L435 167.2 L435.2 167.2 L435.3 167.2 L435.4 167.2 L435.5 167.2 L435.7 167.1 L435.8 167.1 L435.9 167.1 L436 167.1 L436.2 167.1 L436.3 167.1 L436.4 167.1 L436.5 167 L436.7 167 L436.8 167 L436.9 166.9 L437 166.9 L437.2 166.9 L437.3 166.8 L437.4 166.8 L437.5 166.7 L437.7 166.6 L437.8 166.5 L437.9 166.4 L438.1 166.3 L438.2 166.1 L438.3 166 L438.4 165.8 L438.6 165.5 L438.7 165.2 L438.8 164.9 L438.9 164.5 L439.1 164 L439.2 163.5 L439.3 162.8 L439.4 162.1 L439.6 161.2 L439.7 160.3 L439.8 159.2 L439.9 158 L440.1 156.7 L440.2 155.5 L440.3 154.2 L440.4 153.2 L440.6 152.3 L440.7 151.8 L440.8 151.6 L440.9 151.8 L441.1 152.3 L441.2 153.2 L441.3 154.2 L441.4 155.5 L441.6 156.7 L441.7 158 L441.8 159.2 L442 160.3 L442.1 161.2 L442.2 162.1 L442.3 162.8 L442.5 163.5 L442.6 164 L442.7 164.5 L442.8 164.9 L443 165.2 L443.1 165.5 L443.2 165.8 L443.3 166 L443.5 166.1 L443.6 166.3 L443.7 166.4 L443.8 166.5 L444 166.6 L444.1 166.7 L444.2 166.7 L444.3 166.8 L444.5 166.9 L444.6 166.9 L444.7 166.9 L444.8 167 L445 167 L445.1 167 L445.2 167 L445.4 167.1 L445.5 167.1 L445.6 167.1 L445.7 167.1 L445.9 167.1 L446 167.1 L446.1 167.1 L446.2 167.1 L446.4 167.1 L446.5 167.1 L446.6 167.1 L446.7 167.1 L446.9 167.1 L447 167.1 L447.1 167.1 L447.2 167.1 L447.4 167.1 L447.5 167.1 L447.6 167.1 L447.7 167 L447.9 167 L448 167 L448.1 167 L448.2 167 L448.4 167 L448.5 166.9 L448.6 166.9 L448.7 166.9 L448.9 166.9 L449 166.8 L449.1 166.8 L449.3 166.8 L449.4 166.7 L449.5 166.7 L449.6 166.6 L449.8 166.6 L449.9 166.6 L450 166.5 L450.1 166.5 L450.3 166.4 L450.4 166.4 L450.5 166.3 L450.6 166.3 L450.8 166.2 L450.9 166.2 L451 166.1 L451.1 166.1 L451.3 166.1 L451.4 166.1 L451.5 166.1 L451.6 166.1 L451.8 166.1 L451.9 166.2 L452 166.2 L452.1 166.3 L452.3 166.3 L452.4 166.4 L452.5 166.4 L452.6 166.5 L452.8 166.5 L452.9 166.6 L453 166.6 L453.2 166.7 L453.3 166.7 L453.4 166.8 L453.5 166.8 L453.7 166.8 L453.8 166.9 L453.9 166.9 L454 166.9 L454.2 167 L454.3 167 L454.4 167 L454.5 167 L454.7 167.1 L454.8 167.1 L454.9 167.1 L455 167.1 L455.2 167.1 L455.3 167.2 L455.4 167.2 L455.5 167.2 L455.7 167.2 L455.8 167.2 L455.9 167.2 L456 167.2 L456.2 167.2 L456.3 167.2 L456.4 167.3 L456.5 167.3 L456.7 167.3 L456.8 167.3 L456.9 167.3 L457.1 167.3 L457.2 167.3 L457.3 167.3 L457.4 167.3 L457.6 167.3 L457.7 167.3 L457.8 167.3 L457.9 167.3 L458.1 167.3 L458.2 167.3 L458.3 167.3 L458.4 167.3 L458.6 167.4 L458.7 167.4 L458.8 167.4 L458.9 167.4 L459.1 167.4 L459.2 167.4 L459.3 167.4 L459.4 167.4 L459.6 167.4 L459.7 167.4 L459.8 167.4 L459.9 167.4 L460.1 167.4 L460.2 167.4 L460.3 167.4 L460.4 167.4 L460.6 167.4 L460.7 167.4 L460.8 167.4 L461 167.4 L461.1 167.4 L461.2 167.4 L461.3 167.4 L461.5 167.4 L461.6 167.4 L461.7 167.4 L461.8 167.4 L462 167.4 L462.1 167.4 L462.2 167.4 L462.3 167.4 L462.5 167.4 L462.6 167.4 L462.7 167.4 L462.8 167.4 L463 167.4 L463.1 167.4 L463.2 167.4 L463.3 167.4 L463.5 167.4 L463.6 167.4 L463.7 167.4 L463.8 167.4 L464 167.4 L464.1 167.4 L464.2 167.4 L464.3 167.4 L464.5 167.4 L464.6 167.4 L464.7 167.4 L464.9 167.4 L465 167.4 L465.1 167.4 L465.2 167.4 L465.4 167.4 L465.5 167.4 L465.6 167.4 L465.7 167.4 L465.9 167.4 L466 167.5 L466.1 167.5 L466.2 167.5 L466.4 167.5 L466.5 167.5 L466.6 167.5 L466.7 167.5 L466.9 167.5 L467 167.5 L467.1 167.5 L467.2 167.5 L467.4 167.5 L467.5 167.5 L467.6 167.5 L467.7 167.5 L467.9 167.5 L468 167.5 L468.1 167.5 L468.2 167.5 L468.4 167.5 L468.5 167.5 L468.6 167.5 L468.8 167.5 L468.9 167.5 L469 167.5 L469.1 167.5 L469.3 167.5 L469.4 167.5 L469.5 167.5 L469.6 167.5 L469.8 167.5 L469.9 167.5 L470 167.5 L470.1 167.5 L470.3 167.5 L470.4 167.5 L470.5 167.5 L470.6 167.5 L470.8 167.5 L470.9 167.5 L471 167.5 L471.1 167.5 L471.3 167.5 L471.4 167.5 L471.5 167.5 L471.6 167.5 L471.8 167.5 L471.9 167.5 L472 167.5 L472.1 167.5 L472.3 167.5 L472.4 167.5 L472.5 167.5 L472.7 167.5 L472.8 167.5 L472.9 167.5 L473 167.5 L473.2 167.5 L473.3 167.5 L473.4 167.5 L473.5 167.5 L473.7 167.5 L473.8 167.5 L473.9 167.5 L474 167.5 L474.2 167.5 L474.3 167.5 L474.4 167.5 L474.5 167.5 L474.7 167.5 L474.8 167.5 L474.9 167.5 L475 167.5 L475.2 167.5 L475.3 167.5 L475.4 167.5 L475.5 167.5 L475.7 167.5 L475.8 167.5 L475.9 167.5 L476 167.5 L476.2 167.5 L476.3 167.5 L476.4 167.5 L476.6 167.5 L476.7 167.5 L476.8 167.5 L476.9 167.5 L477.1 167.5 L477.2 167.5 L477.3 167.5 L477.4 167.5 L477.6 167.5 L477.7 167.5 L477.8 167.5 L477.9 167.5 L478.1 167.5 L478.2 167.5 L478.3 167.5 L478.4 167.5 L478.6 167.5 L478.7 167.5 L478.8 167.5 L478.9 167.5 L479.1 167.5 L479.2 167.5 L479.3 167.5 L479.4 167.5 L479.6 167.5 L479.7 167.5 L479.8 167.5 L479.9 167.5 L480.1 167.5 L480.2 167.5 L480.3 167.5 L480.5 167.5 L480.6 167.5 L480.7 167.5 L480.8 167.5 L481 167.5 L481.1 167.5 L481.2 167.5 L481.3 167.5 L481.5 167.5 L481.6 167.5 L481.7 167.5 L481.8 167.5 L482 167.5 L482.1 167.5 L482.2 167.5 L482.3 167.5 L482.5 167.5 L482.6 167.5 L482.7 167.5 L482.8 167.5 L483 167.5 L483.1 167.5 L483.2 167.5 L483.3 167.5 L483.5 167.5 L483.6 167.5 L483.7 167.5 L483.8 167.5 L484 167.5 L484.1 167.5 L484.2 167.5 L484.4 167.5 L484.5 167.5 L484.6 167.5 L484.7 167.5 L484.9 167.5 L485 167.5 L485.1 167.5 L485.2 167.5 L485.4 167.5 L485.5 167.5 L485.6 167.5 L485.7 167.5 L485.9 167.5 L486 167.5 L486.1 167.5 L486.2 167.5 L486.4 167.5 L486.5 167.5 L486.6 167.5 L486.7 167.5 L486.9 167.5 L487 167.5 L487.1 167.5 L487.2 167.5 L487.4 167.5 L487.5 167.5 L487.6 167.5 L487.7 167.5 L487.9 167.5 L488 167.5 L488.1 167.5 L488.3 167.5 L488.4 167.5 L488.5 167.5 L488.6 167.5 L488.8 167.5 L488.9 167.5 L489 167.5 L489.1 167.5 L489.3 167.5 L489.4 167.5 L489.5 167.5 L489.6 167.5 L489.8 167.5 L489.9 167.5 L490 167.5 L490.1 167.5 L490.3 167.5 L490.4 167.5 L490.5 167.5 L490.6 167.5 L490.8 167.5 L490.9 167.5 L491 167.5 L491.1 167.5 L491.3 167.5 L491.4 167.5 L491.5 167.5 L491.6 167.5 L491.8 167.5 L491.9 167.5 L492 167.5 L492.2 167.5 L492.3 167.5 L492.4 167.5 L492.5 167.5 L492.7 167.5 L492.8 167.5 L492.9 167.5 L493 167.5 L493.2 167.5 L493.3 167.5 L493.4 167.5 L493.5 167.5 L493.7 167.5 L493.8 167.5 L493.9 167.5 L494 167.5 L494.2 167.5 L494.3 167.5 L494.4 167.5 L494.5 167.5 L494.7 167.5 L494.8 167.5 L494.9 167.5 L495 167.5 L495.2 167.5 L495.3 167.5 L495.4 167.5 L495.5 167.5 L495.7 167.5 L495.8 167.5 L495.9 167.5 L496.1 167.5 L496.2 167.5 L496.3 167.5 L496.4 167.5 L496.6 167.5 L496.7 167.5 L496.8 167.5 L496.9 167.5 L497.1 167.5 L497.2 167.5 L497.3 167.5 L497.4 167.5 L497.6 167.5 L497.7 167.5 L497.8 167.5 L497.9 167.5 L498.1 167.5 L498.2 167.5 L498.3 167.5 L498.4 167.5 L498.6 167.5 L498.7 167.5 L498.8 167.5 L498.9 167.5 L499.1 167.5 L499.2 167.5 L499.3 167.5 L499.4 167.5 L499.6 167.5 L499.7 167.5 L499.8 167.5 L500 167.5 L500.1 167.5 L500.2 167.5 L500.3 167.5 L500.5 167.5 L500.6 167.5 L500.7 167.5 L500.8 167.5 L501 167.5 L501.1 167.5 L501.2 167.5 L501.3 167.5 L501.5 167.5 L501.6 167.5 L501.7 167.5 L501.8 167.5 L502 167.5 L502.1 167.5 L502.2 167.5 L502.3 167.5 L502.5 167.5 L502.6 167.5 L502.7 167.5 L502.8 167.5 L503 167.5 L503.1 167.5 L503.2 167.5 L503.3 167.5 L503.5 167.5 L503.6 167.5 L503.7 167.5 L503.9 167.5 L504 167.5 L504.1 167.5 L504.2 167.5 L504.4 167.5 L504.5 167.5 L504.6 167.5 L504.7 167.5 L504.9 167.5 L505 167.5 L505.1 167.5 L505.2 167.5 L505.4 167.5 L505.5 167.5 L505.6 167.5 L505.7 167.5 L505.9 167.5 L506 167.5 L506.1 167.5 L506.2 167.5 L506.4 167.5 L506.5 167.5 L506.6 167.5 L506.7 167.5 L506.9 167.6 L507 167.6 L507.1 167.6 L507.2 167.6 L507.4 167.6 L507.5 167.6 L507.6 167.6 L507.8 167.6 L507.9 167.6 L508 167.6 L508.1 167.6 L508.3 167.6 L508.4 167.6 L508.5 167.6 L508.6 167.6 L508.8 167.6 L508.9 167.6 L509 167.6 L509.1 167.6 L509.3 167.6 L509.4 167.6 L509.5 167.6 L509.6 167.6 L509.8 167.6 L509.9 167.6 L510 167.6 L510.1 167.6 L510.3 167.6 L510.4 167.6 L510.5 167.6 L510.6 167.6 L510.8 167.6 L510.9 167.6 L511 167.6 L511.1 167.6 L511.3 167.6 L511.4 167.6 L511.5 167.6 L511.7 167.6 L511.8 167.6 L511.9 167.6 L512 167.6 L512.2 167.6 L512.3 167.6 L512.4 167.6 L512.5 167.6 L512.7 167.6 L512.8 167.6 L512.9 167.6 L513 167.6 L513.2 167.6 L513.3 167.6 L513.4 167.6 L513.5 167.6 L513.7 167.6 L513.8 167.6 L513.9 167.6 L514 167.6 L514.2 167.6 L514.3 167.6 L514.4 167.6 L514.5 167.6 L514.7 167.6 L514.8 167.6 L514.9 167.6 L515.1 167.6 L515.2 167.6 L515.3 167.6 L515.4 167.6 L515.6 167.6 L515.7 167.6 L515.8 167.6 L515.9 167.6 L516.1 167.6 L516.2 167.6 L516.3 167.6 L516.4 167.6 L516.6 167.6 L516.7 167.6 L516.8 167.6 L516.9 167.6 L517.1 167.6 L517.2 167.6 L517.3 167.6 L517.4 167.6 L517.6 167.6 L517.7 167.6 L517.8 167.6 L517.9 167.6 L518.1 167.6 L518.2 167.6 L518.3 167.6 L518.4 167.6 L518.6 167.6 L518.7 167.6 L518.8 167.6 L519 167.6 L519.1 167.6 L519.2 167.6 L519.3 167.6 L519.5 167.6 L519.6 167.6 L519.7 167.6 L519.8 167.6 L520 167.6 L520.1 167.6 L520.2 167.6 L520.3 167.6 L520.5 167.6 L520.6 167.6 L520.7 167.6 L520.8 167.6 L521 167.6 L521.1 167.6 L521.2 167.6 L521.3 167.6 L521.5 167.6 L521.6 167.6 L521.7 167.6 L521.8 167.6 L522 167.6 L522.1 167.6 L522.2 167.6 L522.3 167.6 L522.5 167.6 L522.6 167.6 L522.7 167.6 L522.9 167.6 L523 167.6 L523.1 167.6 L523.2 167.6 L523.4 167.6 L523.5 167.6 L523.6 167.6 L523.7 167.6 L523.9 167.6 L524 167.6 L524.1 167.6 L524.2 167.6 L524.4 167.6 L524.5 167.6 L524.6 167.6 L524.7 167.6 L524.9 167.6 L525 167.6 L525.1 167.6 L525.2 167.6 L525.4 167.6 L525.5 167.6 L525.6 167.6 L525.7 167.6 L525.9 167.6 L526 167.6 L526.1 167.6 L526.2 167.6 L526.4 167.6 L526.5 167.6 L526.6 167.6 L526.8 167.6 L526.9 167.6 L527 167.6 L527.1 167.6 L527.3 167.6 L527.4 167.6 L527.5 167.6 L527.6 167.6 L527.8 167.6 L527.9 167.6 L528 167.6 L528.1 167.6 L528.3 167.6 L528.4 167.6 L528.5 167.6 L528.6 167.6 L528.8 167.6 L528.9 167.6 L529 167.6 L529.1 167.6 L529.3 167.6 L529.4 167.6 L529.5 167.6 L529.6 167.6 L529.8 167.6 L529.9 167.6 L530 167.6 L530.1 167.6 L530.3 167.6 L530.4 167.6 L530.5 167.6 L530.7 167.6 L530.8 167.6 L530.9 167.6 L531 167.6 L531.2 167.6 L531.3 167.6 L531.4 167.6 L531.5 167.6 L531.7 167.6 L531.8 167.6 L531.9 167.6 L532 167.6 L532.2 167.6 L532.3 167.6 L532.4 167.6 L532.5 167.6 L532.7 167.6 L532.8 167.6 L532.9 167.6 L533 167.6 L533.2 167.6 L533.3 167.6 L533.4 167.6 L533.5 167.6 L533.7 167.6 L533.8 167.6 L533.9 167.6 L534 167.6 L534.2 167.6 L534.3 167.6 L534.4 167.6 L534.6 167.6 L534.7 167.6 L534.8 167.6 L534.9 167.6 L535.1 167.6 L535.2 167.6 L535.3 167.6 L535.4 167.6 L535.6 167.6 L535.7 167.6 L535.8 167.6 L535.9 167.6 L536.1 167.6 L536.2 167.6 L536.3 167.6 L536.4 167.6 L536.6 167.6 L536.7 167.6 L536.8 167.6 L536.9 167.6 L537.1 167.6 L537.2 167.6 L537.3 167.6 L537.4 167.6 L537.6 167.6 L537.7 167.6 L537.8 167.6 L537.9 167.6 L538.1 167.6 L538.2 167.6 L538.3 167.6 L538.5 167.6 L538.6 167.6 L538.7 167.6 L538.8 167.6 L539 167.6 L539.1 167.6 L539.2 167.6 L539.3 167.6 L539.5 167.6 L539.6 167.6 L539.7 167.6 L539.8 167.6 L540 167.6 L540.1 167.6 L540.2 167.6 L540.3 167.6 L540.5 167.6 L540.6 167.6 L540.7 167.6 L540.8 167.6 L541 167.6 L541.1 167.6 L541.2 167.6 L541.3 167.6 L541.5 167.6 L541.6 167.6 L541.7 167.6 L541.8 167.6 L542 167.6 L542.1 167.6 L542.2 167.6 L542.4 167.6 L542.5 167.6 L542.6 167.6 L542.7 167.6 L542.9 167.6 L543 167.6 L543.1 167.6 L543.2 167.6 L543.4 167.6 L543.5 167.6 L543.6 167.6 L543.7 167.6 L543.9 167.6 L544 167.6 L544.1 167.6 L544.2 167.6 L544.4 167.6 L544.5 167.6 L544.6 167.6 L544.7 167.6 L544.9 167.6 L545 167.6 L545.1 167.6 L545.2 167.6 L545.4 167.6 L545.5 167.6 L545.6 167.6 L545.7 167.6 L545.9 167.6 L546 167.6" fill="none" stroke="#f00" stroke-width="1.45" stroke-linejoin="round"/>
<line x1="401.1" y1="19" x2="401.1" y2="168" stroke="#111" stroke-width="1.6" stroke-dasharray="7.5 3.4"/>
<line x1="440.8" y1="23.2" x2="440.8" y2="168" stroke="#111" stroke-width="1.6" stroke-dasharray="7.5 3.4"/>
<rect x="344.7" y="4.4" width="201.3" height="163.6" fill="none" stroke="#303030" stroke-width="1"/>
<line x1="364.8" y1="168" x2="364.8" y2="165" stroke="#303030" stroke-width="1"/>
<text x="364.8" y="179" font-size="9.2" text-anchor="middle">−0.8</text>
<line x1="405.1" y1="168" x2="405.1" y2="165" stroke="#303030" stroke-width="1"/>
<text x="405.1" y="179" font-size="9.2" text-anchor="middle">−0.4</text>
<line x1="445.4" y1="168" x2="445.4" y2="165" stroke="#303030" stroke-width="1"/>
<text x="445.4" y="179" font-size="9.2" text-anchor="middle">0.0</text>
<line x1="485.6" y1="168" x2="485.6" y2="165" stroke="#303030" stroke-width="1"/>
<text x="485.6" y="179" font-size="9.2" text-anchor="middle">0.4</text>
<line x1="525.9" y1="168" x2="525.9" y2="165" stroke="#303030" stroke-width="1"/>
<text x="525.9" y="179" font-size="9.2" text-anchor="middle">0.8</text>
<line x1="385" y1="168" x2="385" y2="166.2" stroke="#303030" stroke-width="1"/>
<line x1="425.2" y1="168" x2="425.2" y2="166.2" stroke="#303030" stroke-width="1"/>
<line x1="465.5" y1="168" x2="465.5" y2="166.2" stroke="#303030" stroke-width="1"/>
<line x1="505.7" y1="168" x2="505.7" y2="166.2" stroke="#303030" stroke-width="1"/>
<line x1="344.7" y1="168" x2="347.9" y2="168" stroke="#303030" stroke-width="1"/>
<text x="341.2" y="170.7" font-size="9.2" text-anchor="end">0.00</text>
<line x1="344.7" y1="118.8" x2="347.9" y2="118.8" stroke="#303030" stroke-width="1"/>
<text x="341.2" y="121.6" font-size="9.2" text-anchor="end">0.15</text>
<line x1="344.7" y1="69.7" x2="347.9" y2="69.7" stroke="#303030" stroke-width="1"/>
<text x="341.2" y="72.4" font-size="9.2" text-anchor="end">0.30</text>
<line x1="344.7" y1="20.5" x2="347.9" y2="20.5" stroke="#303030" stroke-width="1"/>
<text x="341.2" y="23.2" font-size="9.2" text-anchor="end">0.45</text>
<line x1="344.7" y1="143.4" x2="346.5" y2="143.4" stroke="#303030" stroke-width="1"/>
<line x1="344.7" y1="94.2" x2="346.5" y2="94.2" stroke="#303030" stroke-width="1"/>
<line x1="344.7" y1="45.1" x2="346.5" y2="45.1" stroke="#303030" stroke-width="1"/>
<text x="441.5" y="189" font-size="9.5" text-anchor="middle">Range(m)</text>
<text transform="translate(318 92.3) rotate(-90)" font-size="10.1" text-anchor="middle">Amplitude(V/m)</text>
<line x1="471" y1="12" x2="492.4" y2="12" stroke="#f00" stroke-width="1.3"/>
<text x="495" y="15.1" font-size="9.7">θ<tspan font-size="4.8" dy="3.1">i</tspan><tspan dy="-3.1">=45° φ</tspan><tspan font-size="4.8" dy="3.1">i</tspan><tspan dy="-3.1">=0°</tspan></text>
<text x="471.5" y="31.7" font-size="9.7">t=0.6s</text>
<text x="471.5" y="44.8" font-size="9.7">BW=750MHz</text>
<text x="471.5" y="58.4" font-size="9.7">f<tspan font-size="4.8" dy="3.1">c</tspan><tspan dy="-3.1">=6GHz</tspan></text>
<text x="471.5" y="74.2" font-size="9.7">HH–polarization</text>
<text transform="translate(352.9 79.1) scale(1 1.07)" font-size="12.1" font-weight="bold">RLOS</text>
<line x1="351.4" y1="90.4" x2="382.3" y2="90.4" stroke="#000" stroke-width="1.2"/>
<path d="M385.3 90.4 l-5.2 -1.9 l1.2 1.9 l-1.2 1.9z" fill="#000"/>
<text transform="translate(392.4 18) scale(1 1.1)" font-size="9.4" font-weight="bold" fill="#f00">Point 4</text>
<line x1="424" y1="15.7" x2="440" y2="27" stroke="#f00" stroke-width="1.2"/>
<text transform="translate(357 136.6) scale(1 1.12)" font-size="9.7" font-weight="bold" fill="#f00">Point 3</text>
<line x1="376" y1="140.3" x2="403.3" y2="143.3" stroke="#f00" stroke-width="1.2"/>
<text x="530.9" y="160.9" font-size="11.2">(b)</text>
<path d="M150.7 232.6 L81.8 338.3 Q106.4 349.9 131.6 360.1 Z" fill="url(#gc)" stroke="#2a5f90" stroke-width="0.4"/>
<path d="M36 360.9 L36.1 360.9 L36.3 360.9 L36.4 360.9 L36.5 360.9 L36.6 360.8 L36.8 360.8 L36.9 360.8 L37 360.8 L37.2 360.8 L37.3 360.8 L37.4 360.8 L37.6 360.8 L37.7 360.8 L37.8 360.8 L37.9 360.8 L38.1 360.8 L38.2 360.8 L38.3 360.8 L38.5 360.8 L38.6 360.8 L38.7 360.7 L38.8 360.7 L39 360.7 L39.1 360.7 L39.2 360.7 L39.4 360.7 L39.5 360.7 L39.6 360.7 L39.8 360.7 L39.9 360.7 L40 360.7 L40.1 360.7 L40.3 360.7 L40.4 360.7 L40.5 360.7 L40.7 360.6 L40.8 360.6 L40.9 360.6 L41 360.6 L41.2 360.6 L41.3 360.6 L41.4 360.6 L41.6 360.6 L41.7 360.6 L41.8 360.6 L42 360.6 L42.1 360.6 L42.2 360.6 L42.3 360.5 L42.5 360.5 L42.6 360.5 L42.7 360.5 L42.9 360.5 L43 360.5 L43.1 360.5 L43.2 360.5 L43.4 360.5 L43.5 360.5 L43.6 360.5 L43.8 360.4 L43.9 360.4 L44 360.4 L44.2 360.4 L44.3 360.4 L44.4 360.4 L44.5 360.4 L44.7 360.4 L44.8 360.4 L44.9 360.4 L45.1 360.4 L45.2 360.3 L45.3 360.3 L45.4 360.3 L45.6 360.3 L45.7 360.3 L45.8 360.3 L46 360.3 L46.1 360.3 L46.2 360.3 L46.3 360.3 L46.5 360.2 L46.6 360.2 L46.7 360.2 L46.9 360.2 L47 360.2 L47.1 360.2 L47.3 360.2 L47.4 360.2 L47.5 360.2 L47.6 360.1 L47.8 360.1 L47.9 360.1 L48 360.1 L48.2 360.1 L48.3 360.1 L48.4 360.1 L48.5 360.1 L48.7 360 L48.8 360 L48.9 360 L49.1 360 L49.2 360 L49.3 360 L49.5 360 L49.6 360 L49.7 359.9 L49.8 359.9 L50 359.9 L50.1 359.9 L50.2 359.9 L50.4 359.9 L50.5 359.9 L50.6 359.8 L50.7 359.8 L50.9 359.8 L51 359.8 L51.1 359.8 L51.3 359.8 L51.4 359.7 L51.5 359.7 L51.7 359.7 L51.8 359.7 L51.9 359.7 L52 359.7 L52.2 359.7 L52.3 359.6 L52.4 359.6 L52.6 359.6 L52.7 359.6 L52.8 359.6 L52.9 359.5 L53.1 359.5 L53.2 359.5 L53.3 359.5 L53.5 359.5 L53.6 359.5 L53.7 359.4 L53.9 359.4 L54 359.4 L54.1 359.4 L54.2 359.4 L54.4 359.3 L54.5 359.3 L54.6 359.3 L54.8 359.3 L54.9 359.3 L55 359.2 L55.1 359.2 L55.3 359.2 L55.4 359.2 L55.5 359.1 L55.7 359.1 L55.8 359.1 L55.9 359.1 L56.1 359.1 L56.2 359 L56.3 359 L56.4 359 L56.6 359 L56.7 358.9 L56.8 358.9 L57 358.9 L57.1 358.9 L57.2 358.8 L57.3 358.8 L57.5 358.8 L57.6 358.7 L57.7 358.7 L57.9 358.7 L58 358.7 L58.1 358.6 L58.3 358.6 L58.4 358.6 L58.5 358.5 L58.6 358.5 L58.8 358.5 L58.9 358.5 L59 358.4 L59.2 358.4 L59.3 358.4 L59.4 358.3 L59.5 358.3 L59.7 358.3 L59.8 358.2 L59.9 358.2 L60.1 358.1 L60.2 358.1 L60.3 358.1 L60.5 358 L60.6 358 L60.7 358 L60.8 357.9 L61 357.9 L61.1 357.8 L61.2 357.8 L61.4 357.8 L61.5 357.7 L61.6 357.7 L61.7 357.6 L61.9 357.6 L62 357.5 L62.1 357.5 L62.3 357.4 L62.4 357.4 L62.5 357.3 L62.7 357.3 L62.8 357.2 L62.9 357.2 L63 357.1 L63.2 357.1 L63.3 357 L63.4 357 L63.6 356.9 L63.7 356.9 L63.8 356.8 L63.9 356.7 L64.1 356.7 L64.2 356.6 L64.3 356.5 L64.5 356.5 L64.6 356.4 L64.7 356.3 L64.9 356.3 L65 356.2 L65.1 356.1 L65.2 356.1 L65.4 356 L65.5 355.9 L65.6 355.8 L65.8 355.8 L65.9 355.7 L66 355.6 L66.1 355.5 L66.3 355.4 L66.4 355.3 L66.5 355.2 L66.7 355.1 L66.8 355.1 L66.9 355 L67.1 354.9 L67.2 354.8 L67.3 354.7 L67.4 354.5 L67.6 354.4 L67.7 354.3 L67.8 354.2 L68 354.1 L68.1 354 L68.2 353.8 L68.3 353.7 L68.5 353.6 L68.6 353.5 L68.7 353.3 L68.9 353.2 L69 353 L69.1 352.9 L69.2 352.7 L69.4 352.6 L69.5 352.4 L69.6 352.2 L69.8 352.1 L69.9 351.9 L70 351.7 L70.2 351.5 L70.3 351.3 L70.4 351.1 L70.5 350.9 L70.7 350.7 L70.8 350.5 L70.9 350.3 L71.1 350 L71.2 349.8 L71.3 349.5 L71.4 349.3 L71.6 349 L71.7 348.7 L71.8 348.4 L72 348.1 L72.1 347.8 L72.2 347.5 L72.4 347.1 L72.5 346.8 L72.6 346.4 L72.7 346 L72.9 345.6 L73 345.2 L73.1 344.8 L73.3 344.3 L73.4 343.8 L73.5 343.3 L73.6 342.8 L73.8 342.3 L73.9 341.7 L74 341.1 L74.2 340.4 L74.3 339.8 L74.4 339 L74.6 338.3 L74.7 337.5 L74.8 336.7 L74.9 335.8 L75.1 334.8 L75.2 333.8 L75.3 332.8 L75.5 331.6 L75.6 330.4 L75.7 329.1 L75.8 327.7 L76 326.2 L76.1 324.6 L76.2 322.8 L76.4 320.9 L76.5 318.9 L76.6 316.7 L76.8 314.2 L76.9 311.6 L77 308.7 L77.1 305.6 L77.3 302.1 L77.4 298.3 L77.5 294.1 L77.7 289.5 L77.8 284.5 L77.9 279 L78 272.9 L78.2 266.3 L78.3 259.3 L78.4 251.8 L78.6 244 L78.7 236.4 L78.8 229.4 L79 224.2 L79.1 225 L79.2 230.7 L79.3 237.9 L79.5 245.6 L79.6 253.3 L79.7 260.7 L79.9 267.7 L80 274.2 L80.1 280.1 L80.2 285.5 L80.4 290.5 L80.5 295 L80.6 299.1 L80.8 302.8 L80.9 306.2 L81 309.3 L81.2 312.1 L81.3 314.7 L81.4 317.1 L81.5 319.3 L81.7 321.3 L81.8 323.2 L81.9 324.9 L82.1 326.5 L82.2 328 L82.3 329.4 L82.4 330.6 L82.6 331.9 L82.7 333 L82.8 334 L83 335 L83.1 336 L83.2 336.8 L83.4 337.7 L83.5 338.5 L83.6 339.2 L83.7 339.9 L83.9 340.6 L84 341.2 L84.1 341.8 L84.3 342.4 L84.4 342.9 L84.5 343.4 L84.6 343.9 L84.8 344.4 L84.9 344.8 L85 345.3 L85.2 345.7 L85.3 346.1 L85.4 346.5 L85.6 346.8 L85.7 347.2 L85.8 347.5 L85.9 347.9 L86.1 348.2 L86.2 348.5 L86.3 348.8 L86.5 349 L86.6 349.3 L86.7 349.6 L86.8 349.8 L87 350.1 L87.1 350.3 L87.2 350.5 L87.4 350.7 L87.5 351 L87.6 351.2 L87.8 351.4 L87.9 351.6 L88 351.7 L88.1 351.9 L88.3 352.1 L88.4 352.3 L88.5 352.4 L88.7 352.6 L88.8 352.8 L88.9 352.9 L89 353.1 L89.2 353.2 L89.3 353.3 L89.4 353.5 L89.6 353.6 L89.7 353.7 L89.8 353.9 L89.9 354 L90.1 354.1 L90.2 354.2 L90.3 354.3 L90.5 354.5 L90.6 354.6 L90.7 354.7 L90.9 354.8 L91 354.9 L91.1 355 L91.2 355.1 L91.4 355.2 L91.5 355.3 L91.6 355.3 L91.8 355.4 L91.9 355.5 L92 355.6 L92.1 355.7 L92.3 355.8 L92.4 355.8 L92.5 355.9 L92.7 356 L92.8 356.1 L92.9 356.1 L93.1 356.2 L93.2 356.3 L93.3 356.4 L93.4 356.4 L93.6 356.5 L93.7 356.6 L93.8 356.6 L94 356.7 L94.1 356.7 L94.2 356.8 L94.3 356.9 L94.5 356.9 L94.6 357 L94.7 357 L94.9 357.1 L95 357.1 L95.1 357.2 L95.3 357.2 L95.4 357.3 L95.5 357.3 L95.6 357.4 L95.8 357.4 L95.9 357.5 L96 357.5 L96.2 357.6 L96.3 357.6 L96.4 357.7 L96.5 357.7 L96.7 357.8 L96.8 357.8 L96.9 357.8 L97.1 357.9 L97.2 357.9 L97.3 358 L97.5 358 L97.6 358 L97.7 358.1 L97.8 358.1 L98 358.1 L98.1 358.2 L98.2 358.2 L98.4 358.3 L98.5 358.3 L98.6 358.3 L98.7 358.4 L98.9 358.4 L99 358.4 L99.1 358.5 L99.3 358.5 L99.4 358.5 L99.5 358.5 L99.7 358.6 L99.8 358.6 L99.9 358.6 L100 358.7 L100.2 358.7 L100.3 358.7 L100.4 358.7 L100.6 358.8 L100.7 358.8 L100.8 358.8 L100.9 358.9 L101.1 358.9 L101.2 358.9 L101.3 358.9 L101.5 359 L101.6 359 L101.7 359 L101.9 359 L102 359.1 L102.1 359.1 L102.2 359.1 L102.4 359.1 L102.5 359.1 L102.6 359.2 L102.8 359.2 L102.9 359.2 L103 359.2 L103.1 359.3 L103.3 359.3 L103.4 359.3 L103.5 359.3 L103.7 359.3 L103.8 359.4 L103.9 359.4 L104.1 359.4 L104.2 359.4 L104.3 359.4 L104.4 359.5 L104.6 359.5 L104.7 359.5 L104.8 359.5 L105 359.5 L105.1 359.5 L105.2 359.6 L105.3 359.6 L105.5 359.6 L105.6 359.6 L105.7 359.6 L105.9 359.6 L106 359.7 L106.1 359.7 L106.3 359.7 L106.4 359.7 L106.5 359.7 L106.6 359.7 L106.8 359.8 L106.9 359.8 L107 359.8 L107.2 359.8 L107.3 359.8 L107.4 359.8 L107.5 359.8 L107.7 359.9 L107.8 359.9 L107.9 359.9 L108.1 359.9 L108.2 359.9 L108.3 359.9 L108.5 359.9 L108.6 360 L108.7 360 L108.8 360 L109 360 L109.1 360 L109.2 360 L109.4 360 L109.5 360 L109.6 360.1 L109.7 360.1 L109.9 360.1 L110 360.1 L110.1 360.1 L110.3 360.1 L110.4 360.1 L110.5 360.1 L110.6 360.2 L110.8 360.2 L110.9 360.2 L111 360.2 L111.2 360.2 L111.3 360.2 L111.4 360.2 L111.6 360.2 L111.7 360.2 L111.8 360.3 L111.9 360.3 L112.1 360.3 L112.2 360.3 L112.3 360.3 L112.5 360.3 L112.6 360.3 L112.7 360.3 L112.8 360.3 L113 360.3 L113.1 360.4 L113.2 360.4 L113.4 360.4 L113.5 360.4 L113.6 360.4 L113.8 360.4 L113.9 360.4 L114 360.4 L114.1 360.4 L114.3 360.4 L114.4 360.4 L114.5 360.5 L114.7 360.5 L114.8 360.5 L114.9 360.5 L115 360.5 L115.2 360.5 L115.3 360.5 L115.4 360.5 L115.6 360.5 L115.7 360.5 L115.8 360.5 L116 360.5 L116.1 360.6 L116.2 360.6 L116.3 360.6 L116.5 360.6 L116.6 360.6 L116.7 360.6 L116.9 360.6 L117 360.6 L117.1 360.6 L117.2 360.6 L117.4 360.6 L117.5 360.6 L117.6 360.6 L117.8 360.7 L117.9 360.7 L118 360.7 L118.2 360.7 L118.3 360.7 L118.4 360.7 L118.5 360.7 L118.7 360.7 L118.8 360.7 L118.9 360.7 L119.1 360.7 L119.2 360.7 L119.3 360.7 L119.4 360.7 L119.6 360.7 L119.7 360.8 L119.8 360.8 L120 360.8 L120.1 360.8 L120.2 360.8 L120.4 360.8 L120.5 360.8 L120.6 360.8 L120.7 360.8 L120.9 360.8 L121 360.8 L121.1 360.8 L121.3 360.8 L121.4 360.8 L121.5 360.8 L121.6 360.8 L121.8 360.8 L121.9 360.9 L122 360.9 L122.2 360.9 L122.3 360.9 L122.4 360.9 L122.6 360.9 L122.7 360.9 L122.8 360.9 L122.9 360.9 L123.1 360.9 L123.2 360.9 L123.3 360.9 L123.5 360.9 L123.6 360.9 L123.7 360.9 L123.8 360.9 L124 360.9 L124.1 360.9 L124.2 360.9 L124.4 361 L124.5 361 L124.6 361 L124.8 361 L124.9 361 L125 361 L125.1 361 L125.3 361 L125.4 361 L125.5 361 L125.7 361 L125.8 361 L125.9 361 L126 361 L126.2 361 L126.3 361 L126.4 361 L126.6 361 L126.7 361 L126.8 361 L127 361 L127.1 361 L127.2 361 L127.3 361.1 L127.5 361.1 L127.6 361.1 L127.7 361.1 L127.9 361.1 L128 361.1 L128.1 361.1 L128.2 361.1 L128.4 361.1 L128.5 361.1 L128.6 361.1 L128.8 361.1 L128.9 361.1 L129 361.1 L129.2 361.1 L129.3 361.1 L129.4 361.1 L129.5 361.1 L129.7 361.1 L129.8 361.1 L129.9 361.1 L130.1 361.1 L130.2 361.1 L130.3 361.1 L130.4 361.1 L130.6 361.1 L130.7 361.1 L130.8 361.1 L131 361.2 L131.1 361.2 L131.2 361.2 L131.3 361.2 L131.5 361.2 L131.6 361.2 L131.7 361.2 L131.9 361.2 L132 361.2 L132.1 361.2 L132.3 361.2 L132.4 361.2 L132.5 361.2 L132.6 361.2 L132.8 361.2 L132.9 361.2 L133 361.2 L133.2 361.2 L133.3 361.2 L133.4 361.2 L133.5 361.2 L133.7 361.2 L133.8 361.2 L133.9 361.2 L134.1 361.2 L134.2 361.2 L134.3 361.2 L134.5 361.2 L134.6 361.2 L134.7 361.2 L134.8 361.2 L135 361.2 L135.1 361.2 L135.2 361.2 L135.4 361.2 L135.5 361.2 L135.6 361.2 L135.7 361.2 L135.9 361.2 L136 361.2 L136.1 361.2 L136.3 361.3 L136.4 361.3 L136.5 361.3 L136.7 361.3 L136.8 361.3 L136.9 361.3 L137 361.3 L137.2 361.3 L137.3 361.3 L137.4 361.3 L137.6 361.3 L137.7 361.3 L137.8 361.3 L137.9 361.3 L138.1 361.3 L138.2 361.3 L138.3 361.3 L138.5 361.3 L138.6 361.3 L138.7 361.3 L138.9 361.3 L139 361.3 L139.1 361.3 L139.2 361.3 L139.4 361.3 L139.5 361.3 L139.6 361.3 L139.8 361.3 L139.9 361.3 L140 361.3 L140.1 361.3 L140.3 361.3 L140.4 361.3 L140.5 361.3 L140.7 361.3 L140.8 361.3 L140.9 361.3 L141.1 361.3 L141.2 361.2 L141.3 361.2 L141.4 361.2 L141.6 361.2 L141.7 361.2 L141.8 361.2 L142 361.2 L142.1 361.2 L142.2 361.2 L142.3 361.2 L142.5 361.2 L142.6 361.2 L142.7 361.2 L142.9 361.2 L143 361.2 L143.1 361.2 L143.3 361.2 L143.4 361.2 L143.5 361.2 L143.6 361.1 L143.8 361.1 L143.9 361.1 L144 361.1 L144.2 361.1 L144.3 361.1 L144.4 361.1 L144.5 361.1 L144.7 361 L144.8 361 L144.9 361 L145.1 361 L145.2 361 L145.3 360.9 L145.5 360.9 L145.6 360.9 L145.7 360.9 L145.8 360.8 L146 360.8 L146.1 360.8 L146.2 360.7 L146.4 360.7 L146.5 360.6 L146.6 360.6 L146.7 360.5 L146.9 360.5 L147 360.4 L147.1 360.3 L147.3 360.2 L147.4 360.1 L147.5 360 L147.7 359.9 L147.8 359.8 L147.9 359.7 L148 359.5 L148.2 359.4 L148.3 359.2 L148.4 358.9 L148.6 358.7 L148.7 358.4 L148.8 358.1 L148.9 357.8 L149.1 357.4 L149.2 356.9 L149.3 356.4 L149.5 355.9 L149.6 355.2 L149.7 354.6 L149.9 353.8 L150 353.1 L150.1 352.3 L150.2 351.6 L150.4 351.1 L150.5 350.6 L150.6 350.4 L150.8 350.4 L150.9 350.7 L151 351.2 L151.1 351.8 L151.3 352.5 L151.4 353.3 L151.5 354 L151.7 354.7 L151.8 355.4 L151.9 356 L152 356.6 L152.2 357.1 L152.3 357.5 L152.4 357.9 L152.6 358.2 L152.7 358.5 L152.8 358.8 L153 359.1 L153.1 359.3 L153.2 359.5 L153.3 359.6 L153.5 359.8 L153.6 359.9 L153.7 360 L153.9 360.1 L154 360.2 L154.1 360.3 L154.2 360.4 L154.4 360.5 L154.5 360.6 L154.6 360.6 L154.8 360.7 L154.9 360.7 L155 360.8 L155.2 360.8 L155.3 360.9 L155.4 360.9 L155.5 361 L155.7 361 L155.8 361 L155.9 361.1 L156.1 361.1 L156.2 361.1 L156.3 361.1 L156.4 361.2 L156.6 361.2 L156.7 361.2 L156.8 361.2 L157 361.2 L157.1 361.3 L157.2 361.3 L157.4 361.3 L157.5 361.3 L157.6 361.3 L157.7 361.3 L157.9 361.3 L158 361.4 L158.1 361.4 L158.3 361.4 L158.4 361.4 L158.5 361.4 L158.6 361.4 L158.8 361.4 L158.9 361.4 L159 361.4 L159.2 361.4 L159.3 361.5 L159.4 361.5 L159.6 361.5 L159.7 361.5 L159.8 361.5 L159.9 361.5 L160.1 361.5 L160.2 361.5 L160.3 361.5 L160.5 361.5 L160.6 361.5 L160.7 361.5 L160.8 361.5 L161 361.5 L161.1 361.5 L161.2 361.5 L161.4 361.6 L161.5 361.6 L161.6 361.6 L161.8 361.6 L161.9 361.6 L162 361.6 L162.1 361.6 L162.3 361.6 L162.4 361.6 L162.5 361.6 L162.7 361.6 L162.8 361.6 L162.9 361.6 L163 361.6 L163.2 361.6 L163.3 361.6 L163.4 361.6 L163.6 361.6 L163.7 361.6 L163.8 361.6 L164 361.6 L164.1 361.6 L164.2 361.6 L164.3 361.6 L164.5 361.6 L164.6 361.6 L164.7 361.6 L164.9 361.6 L165 361.6 L165.1 361.6 L165.2 361.6 L165.4 361.6 L165.5 361.6 L165.6 361.6 L165.8 361.6 L165.9 361.7 L166 361.7 L166.2 361.7 L166.3 361.7 L166.4 361.7 L166.5 361.7 L166.7 361.7 L166.8 361.7 L166.9 361.7 L167.1 361.7 L167.2 361.7 L167.3 361.7 L167.4 361.7 L167.6 361.7 L167.7 361.7 L167.8 361.7 L168 361.7 L168.1 361.7 L168.2 361.7 L168.4 361.7 L168.5 361.7 L168.6 361.7 L168.7 361.7 L168.9 361.7 L169 361.7 L169.1 361.7 L169.3 361.7 L169.4 361.7 L169.5 361.7 L169.6 361.7 L169.8 361.7 L169.9 361.7 L170 361.7 L170.2 361.7 L170.3 361.7 L170.4 361.7 L170.6 361.7 L170.7 361.7 L170.8 361.7 L170.9 361.7 L171.1 361.7 L171.2 361.7 L171.3 361.7 L171.5 361.7 L171.6 361.7 L171.7 361.7 L171.8 361.7 L172 361.7 L172.1 361.7 L172.2 361.7 L172.4 361.7 L172.5 361.7 L172.6 361.7 L172.7 361.7 L172.9 361.7 L173 361.6 L173.1 361.6 L173.3 361.6 L173.4 361.6 L173.5 361.6 L173.7 361.6 L173.8 361.6 L173.9 361.6 L174 361.6 L174.2 361.6 L174.3 361.6 L174.4 361.6 L174.6 361.6 L174.7 361.6 L174.8 361.6 L174.9 361.6 L175.1 361.6 L175.2 361.6 L175.3 361.6 L175.5 361.5 L175.6 361.5 L175.7 361.5 L175.9 361.5 L176 361.5 L176.1 361.5 L176.2 361.5 L176.4 361.5 L176.5 361.5 L176.6 361.4 L176.8 361.4 L176.9 361.4 L177 361.4 L177.1 361.4 L177.3 361.3 L177.4 361.3 L177.5 361.3 L177.7 361.3 L177.8 361.2 L177.9 361.2 L178.1 361.2 L178.2 361.1 L178.3 361.1 L178.4 361 L178.6 361 L178.7 360.9 L178.8 360.8 L179 360.8 L179.1 360.7 L179.2 360.6 L179.3 360.5 L179.5 360.4 L179.6 360.3 L179.7 360.2 L179.9 360 L180 359.9 L180.1 359.7 L180.3 359.5 L180.4 359.3 L180.5 359.1 L180.6 358.9 L180.8 358.6 L180.9 358.4 L181 358.1 L181.2 357.8 L181.3 357.6 L181.4 357.3 L181.5 357.1 L181.7 357 L181.8 356.9 L181.9 356.8 L182.1 356.9 L182.2 357 L182.3 357.1 L182.5 357.3 L182.6 357.6 L182.7 357.9 L182.8 358.1 L183 358.4 L183.1 358.7 L183.2 358.9 L183.4 359.2 L183.5 359.4 L183.6 359.6 L183.7 359.8 L183.9 359.9 L184 360.1 L184.1 360.2 L184.3 360.3 L184.4 360.5 L184.5 360.6 L184.7 360.7 L184.8 360.7 L184.9 360.8 L185 360.9 L185.2 361 L185.3 361 L185.4 361.1 L185.6 361.1 L185.7 361.2 L185.8 361.2 L185.9 361.2 L186.1 361.3 L186.2 361.3 L186.3 361.3 L186.5 361.4 L186.6 361.4 L186.7 361.4 L186.9 361.5 L187 361.5 L187.1 361.5 L187.2 361.5 L187.4 361.5 L187.5 361.6 L187.6 361.6 L187.8 361.6 L187.9 361.6 L188 361.6 L188.1 361.6 L188.3 361.6 L188.4 361.6 L188.5 361.7 L188.7 361.7 L188.8 361.7 L188.9 361.7 L189.1 361.7 L189.2 361.7 L189.3 361.7 L189.4 361.7 L189.6 361.7 L189.7 361.7 L189.8 361.7 L190 361.7 L190.1 361.8 L190.2 361.8 L190.3 361.8 L190.5 361.8 L190.6 361.8 L190.7 361.8 L190.9 361.8 L191 361.8 L191.1 361.8 L191.2 361.8 L191.4 361.8 L191.5 361.8 L191.6 361.8 L191.8 361.8 L191.9 361.8 L192 361.8 L192.2 361.8 L192.3 361.8 L192.4 361.8 L192.5 361.8 L192.7 361.8 L192.8 361.8 L192.9 361.8 L193.1 361.9 L193.2 361.9 L193.3 361.9 L193.4 361.9 L193.6 361.9 L193.7 361.9 L193.8 361.9 L194 361.9 L194.1 361.9 L194.2 361.9 L194.4 361.9 L194.5 361.9 L194.6 361.9 L194.7 361.9 L194.9 361.9 L195 361.9 L195.1 361.9 L195.3 361.9 L195.4 361.9 L195.5 361.9 L195.6 361.9 L195.8 361.9 L195.9 361.9 L196 361.9 L196.2 361.9 L196.3 361.9 L196.4 361.9 L196.6 361.9 L196.7 361.9 L196.8 361.9 L196.9 361.9 L197.1 361.9 L197.2 361.9 L197.3 361.9 L197.5 361.9 L197.6 361.9 L197.7 361.9 L197.8 361.9 L198 361.9 L198.1 361.9 L198.2 361.9 L198.4 361.9 L198.5 361.9 L198.6 361.9 L198.8 361.9 L198.9 361.9 L199 361.9 L199.1 361.9 L199.3 361.9 L199.4 361.9 L199.5 361.9 L199.7 361.9 L199.8 361.9 L199.9 361.9 L200 361.9 L200.2 361.9 L200.3 361.9 L200.4 361.9 L200.6 361.9 L200.7 362 L200.8 362 L201 362 L201.1 362 L201.2 362 L201.3 362 L201.5 362 L201.6 362 L201.7 362 L201.9 362 L202 362 L202.1 362 L202.2 362 L202.4 362 L202.5 362 L202.6 362 L202.8 362 L202.9 362 L203 362 L203.2 362 L203.3 362 L203.4 362 L203.5 362 L203.7 362 L203.8 362 L203.9 362 L204.1 362 L204.2 362 L204.3 362 L204.4 362 L204.6 362 L204.7 362 L204.8 362 L205 362 L205.1 362 L205.2 362 L205.4 362 L205.5 362 L205.6 362 L205.7 362 L205.9 362 L206 362 L206.1 362 L206.3 362 L206.4 362 L206.5 362 L206.6 362 L206.8 362 L206.9 362 L207 362 L207.2 362 L207.3 362 L207.4 362 L207.6 362 L207.7 362 L207.8 362 L207.9 362 L208.1 362 L208.2 362 L208.3 362 L208.5 362 L208.6 362 L208.7 362 L208.8 362 L209 362 L209.1 362 L209.2 362 L209.4 362 L209.5 362 L209.6 362 L209.8 362 L209.9 362 L210 362 L210.1 362 L210.3 362 L210.4 362 L210.5 362 L210.7 362 L210.8 362 L210.9 362 L211 362 L211.2 362 L211.3 362 L211.4 362 L211.6 362 L211.7 362 L211.8 362 L211.9 362 L212.1 362 L212.2 362 L212.3 362 L212.5 362 L212.6 362 L212.7 362 L212.9 362 L213 362 L213.1 362 L213.2 362 L213.4 362 L213.5 362 L213.6 362 L213.8 362 L213.9 362 L214 362 L214.1 362 L214.3 362 L214.4 362 L214.5 362 L214.7 362 L214.8 362 L214.9 362 L215.1 362 L215.2 362 L215.3 362 L215.4 362 L215.6 362 L215.7 362 L215.8 362 L216 362 L216.1 362 L216.2 362 L216.3 362 L216.5 362 L216.6 362 L216.7 362 L216.9 362 L217 362 L217.1 362 L217.3 362 L217.4 362 L217.5 362 L217.6 362 L217.8 362 L217.9 362 L218 362 L218.2 362 L218.3 362 L218.4 362 L218.5 362 L218.7 362 L218.8 362 L218.9 362 L219.1 362 L219.2 362 L219.3 362 L219.5 362 L219.6 362 L219.7 362 L219.8 362 L220 362.1 L220.1 362.1 L220.2 362.1 L220.4 362.1 L220.5 362.1 L220.6 362.1 L220.7 362.1 L220.9 362.1 L221 362.1 L221.1 362.1 L221.3 362.1 L221.4 362.1 L221.5 362.1 L221.7 362.1 L221.8 362.1 L221.9 362.1 L222 362.1 L222.2 362.1 L222.3 362.1 L222.4 362.1 L222.6 362.1 L222.7 362.1 L222.8 362.1 L222.9 362.1 L223.1 362.1 L223.2 362.1 L223.3 362.1 L223.5 362.1 L223.6 362.1 L223.7 362.1 L223.9 362.1 L224 362.1 L224.1 362.1 L224.2 362.1 L224.4 362.1 L224.5 362.1 L224.6 362.1 L224.8 362.1 L224.9 362.1 L225 362.1 L225.1 362.1 L225.3 362.1 L225.4 362.1 L225.5 362.1 L225.7 362.1 L225.8 362.1 L225.9 362.1 L226.1 362.1 L226.2 362.1 L226.3 362.1 L226.4 362.1 L226.6 362.1 L226.7 362.1 L226.8 362.1 L227 362.1 L227.1 362.1 L227.2 362.1 L227.3 362.1 L227.5 362.1 L227.6 362.1 L227.7 362.1 L227.9 362.1 L228 362.1 L228.1 362.1 L228.3 362.1 L228.4 362.1 L228.5 362.1 L228.6 362.1 L228.8 362.1 L228.9 362.1 L229 362.1 L229.2 362.1 L229.3 362.1 L229.4 362.1 L229.5 362.1 L229.7 362.1 L229.8 362.1 L229.9 362.1 L230.1 362.1 L230.2 362.1 L230.3 362.1 L230.5 362.1 L230.6 362.1 L230.7 362.1 L230.8 362.1 L231 362.1 L231.1 362.1 L231.2 362.1 L231.4 362.1 L231.5 362.1 L231.6 362.1 L231.7 362.1 L231.9 362.1 L232 362.1 L232.1 362.1 L232.3 362.1 L232.4 362.1 L232.5 362.1 L232.7 362.1 L232.8 362.1 L232.9 362.1 L233 362.1 L233.2 362.1 L233.3 362.1 L233.4 362.1 L233.6 362.1 L233.7 362.1 L233.8 362.1 L233.9 362.1 L234.1 362.1 L234.2 362.1 L234.3 362.1 L234.5 362.1 L234.6 362.1 L234.7 362.1 L234.8 362.1 L235 362.1 L235.1 362.1 L235.2 362.1 L235.4 362.1 L235.5 362.1 L235.6 362.1 L235.8 362.1 L235.9 362.1 L236 362.1 L236.1 362.1 L236.3 362.1 L236.4 362.1 L236.5 362.1 L236.7 362.1 L236.8 362.1 L236.9 362.1 L237 362.1 L237.2 362.1 L237.3 362.1 L237.4 362.1 L237.6 362.1 L237.7 362.1 L237.8 362.1 L238 362.1 L238.1 362.1 L238.2 362.1 L238.3 362.1 L238.5 362.1 L238.6 362.1 L238.7 362.1 L238.9 362.1 L239 362.1 L239.1 362.1 L239.2 362.1 L239.4 362.1 L239.5 362.1 L239.6 362.1 L239.8 362.1 L239.9 362.1 L240 362.1 L240.2 362.1 L240.3 362.1 L240.4 362.1 L240.5 362.1 L240.7 362.1 L240.8 362.1 L240.9 362.1 L241.1 362.1 L241.2 362.1 L241.3 362.1 L241.4 362.1 L241.6 362.1 L241.7 362.1 L241.8 362.1 L242 362.1 L242.1 362.1 L242.2 362.1 L242.4 362.1 L242.5 362.1 L242.6 362.1 L242.7 362.1 L242.9 362.1 L243 362.1" fill="none" stroke="#f00" stroke-width="1.45" stroke-linejoin="round"/>
<line x1="78.3" y1="256.5" x2="78.3" y2="363" stroke="#111" stroke-width="1.8" stroke-dasharray="8.5 3.5"/>
<line x1="150.7" y1="233" x2="150.7" y2="363" stroke="#111" stroke-width="1.8" stroke-dasharray="8.5 3.5"/>
<rect x="36" y="195.5" width="207" height="167.5" fill="none" stroke="#303030" stroke-width="1.2"/>
<line x1="56.7" y1="363" x2="56.7" y2="360" stroke="#303030" stroke-width="1"/>
<text x="56.7" y="374" font-size="9.6" text-anchor="middle">−0.8</text>
<line x1="98.1" y1="363" x2="98.1" y2="360" stroke="#303030" stroke-width="1"/>
<text x="98.1" y="374" font-size="9.6" text-anchor="middle">−0.4</text>
<line x1="139.5" y1="363" x2="139.5" y2="360" stroke="#303030" stroke-width="1"/>
<text x="139.5" y="374" font-size="9.6" text-anchor="middle">0.0</text>
<line x1="180.9" y1="363" x2="180.9" y2="360" stroke="#303030" stroke-width="1"/>
<text x="180.9" y="374" font-size="9.6" text-anchor="middle">0.4</text>
<line x1="222.3" y1="363" x2="222.3" y2="360" stroke="#303030" stroke-width="1"/>
<text x="222.3" y="374" font-size="9.6" text-anchor="middle">0.8</text>
<line x1="77.4" y1="363" x2="77.4" y2="361.2" stroke="#303030" stroke-width="1"/>
<line x1="118.8" y1="363" x2="118.8" y2="361.2" stroke="#303030" stroke-width="1"/>
<line x1="160.2" y1="363" x2="160.2" y2="361.2" stroke="#303030" stroke-width="1"/>
<line x1="201.6" y1="363" x2="201.6" y2="361.2" stroke="#303030" stroke-width="1"/>
<line x1="36" y1="363" x2="39.2" y2="363" stroke="#303030" stroke-width="1"/>
<text x="32.5" y="365.9" font-size="9.6" text-anchor="end">0.00</text>
<line x1="36" y1="323.8" x2="39.2" y2="323.8" stroke="#303030" stroke-width="1"/>
<text x="32.5" y="326.7" font-size="9.6" text-anchor="end">0.07</text>
<line x1="36" y1="284.7" x2="39.2" y2="284.7" stroke="#303030" stroke-width="1"/>
<text x="32.5" y="287.6" font-size="9.6" text-anchor="end">0.14</text>
<line x1="36" y1="245.5" x2="39.2" y2="245.5" stroke="#303030" stroke-width="1"/>
<text x="32.5" y="248.4" font-size="9.6" text-anchor="end">0.21</text>
<line x1="36" y1="206.4" x2="39.2" y2="206.4" stroke="#303030" stroke-width="1"/>
<text x="32.5" y="209.3" font-size="9.6" text-anchor="end">0.28</text>
<line x1="36" y1="343.4" x2="37.8" y2="343.4" stroke="#303030" stroke-width="1"/>
<line x1="36" y1="304.3" x2="37.8" y2="304.3" stroke="#303030" stroke-width="1"/>
<line x1="36" y1="265.1" x2="37.8" y2="265.1" stroke="#303030" stroke-width="1"/>
<line x1="36" y1="226" x2="37.8" y2="226" stroke="#303030" stroke-width="1"/>
<text x="139.5" y="384" font-size="9.75" text-anchor="middle">Range(m)</text>
<text transform="translate(10.5 286.7) rotate(-90)" font-size="10.2" text-anchor="middle">Amplitude(V/m)</text>
<line x1="164.9" y1="204.8" x2="187.2" y2="204.8" stroke="#f00" stroke-width="1.3"/>
<text x="189.4" y="208.4" font-size="10">θ<tspan font-size="5" dy="3.1">i</tspan><tspan dy="-3.1">=45° φ</tspan><tspan font-size="5" dy="3.1">i</tspan><tspan dy="-3.1">=0°</tspan></text>
<text x="165.3" y="225.4" font-size="10">t=0.8s</text>
<text x="165.3" y="238.7" font-size="10">BW=750MHz</text>
<text x="165.3" y="253" font-size="10">f<tspan font-size="5" dy="3.1">c</tspan><tspan dy="-3.1">=6GHz</tspan></text>
<text x="165.3" y="269.2" font-size="10">HH–polarization</text>
<text transform="translate(40.4 281.4) scale(1 1.08)" font-size="12.4" font-weight="bold">RLOS</text>
<line x1="39.8" y1="292.5" x2="71.7" y2="292.5" stroke="#000" stroke-width="1.2"/>
<path d="M74.7 292.5 l-5.2 -1.9 l1.2 1.9 l-1.2 1.9z" fill="#000"/>
<text transform="translate(99.8 219.6) scale(1 1.17)" font-size="9.9" font-weight="bold" fill="#f00">Point 6</text>
<line x1="132.1" y1="219" x2="149" y2="231" stroke="#f00" stroke-width="1.2"/>
<text transform="translate(41.2 332.8) scale(1 1.17)" font-size="9.9" font-weight="bold" fill="#f00">Point 4</text>
<line x1="53.6" y1="335.3" x2="82" y2="338.3" stroke="#f00" stroke-width="1.2"/>
<text x="228.1" y="354.7" font-size="11.8" font-weight="bold">(c)</text>
<g>
<rect x="340.7" y="209.8" width="160.3" height="152.9" fill="#000092"/>
<path d="M343.9 306.6L340.9 306.9L340.8 301.1L340.9 295.2L346.3 294.6L350.8 293.6L356.4 291.6L357.5 291.1L358 290.6L340.9 290.3L340.9 281.6L355.9 281.5L357.4 281.3L358 281.1L355.3 280.1L340.9 276L340.9 265.2L345.9 266.2L353 268.1L358.9 269.3L362.4 270.3L364.9 271.2L368.9 273.2L377.9 278.6L378.4 278.5L383.4 275.3L386.4 273.7L389.9 272.2L394.4 270.7L402.3 268.6L409.4 266.3L413.4 265.3L417.9 264.7L422.9 264.8L425.9 265.3L430.4 266.3L438.9 268.7L447.8 272.6L458.4 276.3L466.5 280.1L467.9 280.4L469.1 280.1L481.4 272.8L486.4 270.3L489.4 269.3L493.4 268.4L500.9 267.6L500.9 277.4L495.4 277.9L491.7 278.6L488.9 279.6L486.8 280.6L486.2 281.1L486.9 281.4L487.9 281.5L500.9 281.5L500.9 290.4L487.3 290.6L487.8 291.1L488.8 291.6L492.9 293.1L496.7 294.1L500.9 294.8L501 300.6L500.9 306.2L493.4 304.7L489.9 303.8L485.9 302.4L479.4 299.4L466.9 292.6L464.4 291.7L462.5 292.1L448.2 297.1L445.4 298.2L438.4 301.9L434.9 303.2L429.4 304.9L423.9 305.9L419.9 306.3L415.4 306.3L410.9 305.8L405.9 304.8L401.4 303.4L394.2 300.6L385.4 297.9L382.9 296.7L378.9 294.1L378.4 293.9L377.9 294.1L372.4 297.4L367.9 299.8L360.9 302.9L356.4 304.4L352.4 305.4L346.9 306.3L343.9 306.6ZM439.5 281.1L436.3 279.6L431.4 278.1L425 276.6L420.4 276L415.9 276.5L413.7 277.1L402.1 281.1L402.9 281.4L404.4 281.4L436.9 281.5L438.9 281.4L439.5 281.1ZM425.9 296.1L433.9 294.6L438.6 293.1L443.5 291.1L443 290.6L438.4 290.4L402.4 290.5L401.2 290.6L401 291.1L406.5 293.6L409.5 294.6L413.4 295.6L416.2 296.1L419.4 296.3L425.9 296.1Z" fill="#0000a9" fill-rule="evenodd"/>
<path d="M341.4 306.6L340.9 306.6L340.9 305.6L340.9 295.4L347.4 294.6L351.5 293.6L357 291.6L359 290.6L359.1 290.1L340.9 289.9L340.9 282L358.4 281.9L360 281.6L359.2 281.1L356.4 280.1L340.9 275.7L340.9 265.6L344.9 266.4L357.9 269.4L362.9 270.8L366.4 272.3L369.4 273.8L374.4 276.7L377.1 278.6L377.9 278.9L378.8 278.6L382.9 275.8L386.4 273.9L390.4 272.3L394.9 270.8L412.4 265.8L415.4 265.2L418.9 265L423.9 265.2L431.4 266.8L438.4 268.8L448.4 273.1L457.9 276.3L465.9 280.1L467.9 280.7L469.1 280.6L482.4 272.7L487.4 270.4L490.4 269.4L493.4 268.8L500.9 268L500.9 277L495.4 277.4L492.1 278.1L487.9 279.6L485.1 281.1L484.7 281.6L486.9 281.9L500.9 281.9L500.9 290L486.9 290L486.3 290.1L486.2 290.6L489.4 292.1L492.2 293.1L495.8 294.1L500.9 295.1L501 300.6L500.9 306L492.9 304.4L486.4 302.3L479.4 299.2L466.4 292.1L463.9 291.3L462.4 291.5L458.9 292.6L447.7 296.6L445.4 297.5L438.4 301.3L434.9 302.7L428.4 304.7L422.4 305.7L418.4 305.9L413.9 305.8L409.9 305.3L405.4 304.3L401.9 303.2L393.7 300.1L385.9 297.7L382.9 296.3L379.4 294L378.4 293.6L377.4 294L372.9 296.8L367.4 299.8L362.9 301.8L358.9 303.3L355.9 304.3L351.4 305.3L345.4 306.3L341.4 306.6ZM441 281.6L436.9 279.6L432.3 278.1L426 276.6L423.3 276.1L420.4 275.9L417.4 276.1L413 277.1L401.1 281.1L400.1 281.6L402.4 281.8L438.4 281.9L440.4 281.8L441 281.6ZM425 296.6L431.4 295.6L435.6 294.6L444.7 291.6L445.9 291.1L446.4 290.6L444.4 290.1L440.4 290L401.4 290.1L399.9 290.2L399.3 290.6L401.1 291.6L405.6 293.6L411.8 295.6L414.4 296.1L418.4 296.6L421.4 296.7L425 296.6Z" fill="#0000ca" fill-rule="evenodd"/>
<path d="M345.4 306.1L340.9 306.4L340.8 301.1L340.9 295.6L345.5 295.1L350.3 294.1L356.1 292.1L360.1 290.1L359.9 289.8L358.9 289.7L340.9 289.5L340.9 282.4L359.4 282.2L361.1 282.1L360.9 281.6L360 281.1L357.3 280.1L340.9 275.4L340.9 265.9L358.4 269.8L362.4 270.9L365.9 272.3L368.9 273.8L373.4 276.4L377.4 279L377.9 279.1L385.9 274.3L389.4 272.8L393.9 271.3L408.9 266.8L412.9 265.9L417.9 265.2L423.4 265.3L428.9 266.4L437.9 268.8L448 273.1L457.4 276.3L466.6 280.6L468.4 281.1L469.9 280.6L482.9 272.8L486.9 270.9L489.9 269.9L492.9 269.2L500.9 268.3L500.9 276.7L495.4 277.1L490.9 278L487.1 279.6L483.6 281.6L483.9 282.1L485.4 282.2L500.9 282.2L500.9 289.7L486.4 289.7L485.4 289.8L485 290.1L487.7 291.6L491.6 293.1L497.2 294.6L500.9 295.2L500.9 305.8L492.9 304.2L489.4 303.2L485.4 301.7L478.9 298.7L466.8 292.1L464.4 291.1L463.4 290.9L462.2 291.1L458.9 291.9L446.9 296.2L445.4 296.8L438.9 300.6L433.9 302.7L428.4 304.3L422.9 305.3L418.4 305.7L413.9 305.5L409.4 304.9L404.9 303.9L401.4 302.8L394.4 300L385.4 297.3L382.4 295.7L379.1 293.6L378.4 293.4L368.9 298.9L364.9 300.8L361.4 302.3L356.9 303.8L353.4 304.7L345.4 306.1ZM442 282.1L441.6 281.6L438.5 280.1L432.9 278.1L424.4 276.1L420.4 275.7L416.4 276L412.4 277.1L400.5 281.1L399.2 281.6L398.8 282.1L439.4 282.2L442 282.1ZM422.2 297.1L427.8 296.6L434.9 295.2L445.4 292L449.8 290.1L448.9 289.8L441.4 289.7L400.9 289.8L398.9 289.8L397.9 290.1L398.4 290.6L399.4 291.1L404.9 293.6L410.8 295.6L416.4 296.7L422.2 297.1Z" fill="#0000eb" fill-rule="evenodd"/>
<path d="M343.9 306.1L340.9 306.3L340.9 295.7L346.3 295.1L352.4 293.6L358.7 291.1L360.6 290.1L361.1 289.6L359.9 289.4L340.9 289.2L340.9 282.7L360.9 282.5L361.9 282.3L362.1 282.1L360.5 281.1L357.9 280L340.9 275.2L340.9 266.2L344.9 266.9L357.9 269.9L362.9 271.3L368.4 273.8L372.9 276.3L377.1 279.1L377.9 279.3L385.9 274.5L389.9 272.8L394.4 271.3L409.4 266.9L413.4 265.9L418.4 265.3L422.9 265.4L425.9 265.9L430.4 266.9L438.9 269.3L447.6 273.1L458.4 276.9L466.4 280.6L468.4 281.3L469.9 280.9L482.4 273.5L487.4 271.1L490.4 270.1L493.4 269.4L500.9 268.6L500.9 276.4L494.9 276.9L490.9 277.7L488.4 278.6L485.4 280L482.8 281.6L482.4 282.1L483.4 282.4L484.9 282.5L500.9 282.5L500.9 289.4L485.9 289.4L484.1 289.6L484.4 290.1L486.3 291.1L491.2 293.1L496.5 294.6L500.9 295.4L500.9 305.6L493.4 304.2L489.9 303.2L485.9 301.8L479.4 298.8L466.1 291.6L463.9 290.7L462.4 290.5L458.4 291.3L446.9 295.3L445.4 295.9L439 300.1L434.4 302.1L428.4 304L422.9 305L418.9 305.4L414.4 305.3L409.9 304.7L405.4 303.8L401.9 302.7L393.6 299.6L385.9 297.2L382.9 295.8L379.4 293.5L378.4 293.3L368.9 298.7L364.4 300.9L360.9 302.3L356.4 303.8L352.9 304.7L347.4 305.7L343.9 306.1ZM443 282.1L437.7 279.6L433.4 278.1L425.1 276.1L420.4 275.5L416.9 275.8L413.6 276.6L400 281.1L397.7 282.1L398.4 282.4L399.9 282.4L440.4 282.5L442.4 282.4L443 282.1ZM426.3 297.1L433.4 295.9L442.2 293.6L445.4 292.9L451.9 290.5L452.7 290.1L453 289.6L452.7 289.1L451.9 288.8L446.9 289.4L398.9 289.5L397.3 289.6L396.8 290.1L405.6 294.1L408.4 295.1L412.4 296.2L415.9 296.9L419.4 297.3L422.9 297.3L426.3 297.1Z" fill="#000eff" fill-rule="evenodd"/>
<path d="M342.4 306.1L340.9 306.2L340.9 295.9L346.9 295.1L351.3 294.1L356.8 292.1L360 290.6L361.7 289.6L361.4 289.1L360.9 289L340.9 288.9L340.9 283L361.4 282.9L363.1 282.6L362.7 282.1L362 281.6L358.4 280L340.9 274.9L340.9 266.4L357.9 270.1L362.4 271.4L368.4 274L373.4 276.9L376.9 279.2L377.9 279.5L382.9 276.3L386.4 274.4L389.9 272.9L394.4 271.4L408.4 267.3L413.9 266L418.9 265.4L423.4 265.6L429.9 266.9L438.4 269.3L447.4 273.2L457.9 276.8L466.9 281L468.9 281.6L470.4 281.1L483 273.6L487.4 271.4L489.9 270.5L493.4 269.7L500.9 268.9L500.9 276.2L495.4 276.5L490.9 277.4L485.9 279.4L482.8 281.1L481.4 282.1L481.6 282.6L483.4 282.8L500.9 282.8L500.9 289.1L484.9 289.1L483.9 289.1L483.4 289.6L485.9 291.1L490.9 293.1L495.9 294.6L500.9 295.5L500.9 305.5L496.4 304.7L492.4 303.7L488.9 302.7L484.9 301.2L479.4 298.6L468.4 292.6L464.1 290.6L461.9 290.1L456.9 290.1L455.9 289.9L453.3 288.6L451.9 288.2L446.9 289.1L398.9 289.2L396.4 289.3L395.4 289.6L397.1 290.6L407.4 295L412.9 296.6L417.4 297.4L421.4 297.6L425.9 297.4L432.9 296.4L441.4 294.5L443.4 294.4L443.9 294.9L443.9 295.6L442.5 297.1L439.7 299.1L437.1 300.6L433.5 302.1L430.5 303.1L423.9 304.6L419.4 305.1L414.9 305.1L410.9 304.7L405.9 303.6L401.4 302.3L393.9 299.4L385.9 297L383.4 295.8L378.9 293.1L377.9 293.3L372.4 296.6L367.4 299.3L364.4 300.8L359.4 302.7L355.9 303.8L351.9 304.8L346.9 305.6L342.4 306.1ZM444.1 282.6L443.5 282.1L439.2 280.1L433.9 278.1L425.4 276L422.9 275.6L420.4 275.4L417.4 275.6L413.2 276.6L398.2 281.6L397 282.1L396.5 282.6L398.9 282.7L440.9 282.8L442.9 282.8L444.1 282.6Z" fill="#0032ff" fill-rule="evenodd"/>
<path d="M346.4 305.6L340.9 306L340.9 296L346.9 295.2L351.7 294.1L358.2 291.6L361.2 290.1L362.6 289.1L361.4 288.7L340.9 288.6L340.9 283.3L362.4 283.2L363.7 283.1L363.8 282.6L361.5 281.1L358.4 279.8L340.9 274.7L340.9 266.6L357.9 270.3L362.4 271.6L365.4 272.8L368.9 274.5L377.4 279.7L378.4 279.4L382.9 276.4L386.4 274.5L390.4 272.9L394.9 271.4L408.4 267.4L412.9 266.3L418.4 265.6L423.4 265.8L429.4 266.9L438.4 269.5L448.1 273.6L457.9 277L467.4 281.4L469.4 281.8L470.9 281.3L483.6 273.6L487.9 271.6L490.9 270.6L493.4 270L500.9 269.1L500.9 275.9L494.4 276.4L489.9 277.4L486.4 278.8L482.4 280.8L480.5 282.1L480.2 282.6L481.4 283L482.9 283.1L500.9 283.1L500.9 288.8L484.4 288.8L482.5 289.1L482.9 289.6L484.6 290.6L490.4 293.1L495.4 294.6L500.9 295.7L500.9 305.4L492.9 303.7L489.4 302.7L485.4 301.2L479.9 298.7L468.4 292.4L463.9 290.3L460.9 289.6L456.9 289.1L451.9 287.7L446.9 288.8L398.4 288.9L394.4 289.1L394.3 289.6L395.3 290.1L405.9 294.7L410.9 296.3L415.9 297.4L419.9 297.9L424.4 297.8L430.4 297.2L438.4 295.9L439.9 295.8L440.7 296.1L440.9 296.6L440.7 297.1L439.8 298.1L437.8 299.6L435.9 300.6L432.3 302.1L429.3 303.1L423.9 304.3L419.4 304.8L414.9 304.8L410.4 304.3L405.9 303.4L401.4 302.1L394.4 299.4L385.9 296.8L383.4 295.6L378.9 292.9L377.9 293.2L368.4 298.7L361.9 301.7L357.4 303.2L353.9 304.2L346.4 305.6ZM444.4 283.1L444.9 282.6L444 282.1L437.9 279.4L434.4 278.1L425.9 275.9L422.9 275.4L420.4 275.3L417 275.6L412.9 276.5L399.2 281.1L395.7 282.6L395.9 282.9L397.4 283L444.4 283.1Z" fill="#0057ff" fill-rule="evenodd"/>
<path d="M344.9 305.6L340.9 305.9L340.9 296.1L347.4 295.2L352.9 293.8L356.9 292.2L360.4 290.6L363.1 289.1L363.4 288.6L362.4 288.4L340.9 288.2L340.9 283.6L363.4 283.5L364.4 283.4L364.8 283.1L364.4 282.6L362.9 281.6L358.9 279.7L340.9 274.4L340.9 266.9L357.9 270.5L362.9 272L366.4 273.5L369.4 275L377.4 279.8L378.4 279.5L382.4 276.9L385.9 274.9L390.4 273L394.9 271.5L408.9 267.4L413.4 266.3L418.4 265.7L423.4 265.9L428.9 266.9L438.3 269.6L447.9 273.6L457.4 276.9L467.4 281.5L469.4 282.1L470.9 281.8L482.6 274.6L487.6 272.1L490.5 271.1L492.9 270.5L495.9 270L500.9 269.4L500.9 275.6L494.9 276L490.4 276.9L486.9 278.2L482.4 280.4L480.2 281.6L479 282.6L479.4 283.1L481.9 283.4L500.9 283.4L500.9 288.5L482.9 288.5L482.1 288.6L481.9 289.1L485.3 291.1L490.4 293.2L495.4 294.7L500.9 295.8L500.9 305.2L493.4 303.7L486.9 301.7L479.9 298.6L469.4 292.8L464.4 290.3L460.6 289.1L456.9 288.5L451.9 287.1L449.9 287.8L446.9 288.5L395.9 288.6L393.4 288.7L392.7 289.1L393.4 289.6L406.9 295.3L411.4 296.7L415.4 297.6L418.9 298.1L422.4 298.2L427.4 298L436.4 297L437.2 297.1L437.9 297.6L437.8 298.1L437 299.1L433.5 301.1L427.9 303.1L423.4 304.1L418.9 304.5L414.9 304.5L410.2 304.1L405.5 303.1L401.4 301.8L394.4 299.2L385.9 296.5L383.4 295.4L379.4 292.8L378.9 292.7L377.9 293L372.9 296.1L368.4 298.6L364.4 300.5L361.4 301.7L357.4 303.1L353.4 304.2L348.9 305.1L344.9 305.6ZM446.2 283.1L445.5 282.6L439.4 279.8L434.4 277.9L425.9 275.8L422.9 275.3L420.4 275.1L416.9 275.4L412.4 276.5L397.5 281.6L395.1 282.6L394.5 283.1L395.4 283.3L396.9 283.3L442.9 283.4L445.4 283.3L446.2 283.1Z" fill="#007bff" fill-rule="evenodd"/>
<path d="M343.9 305.6L340.9 305.8L340.9 296.3L347.4 295.3L352.9 293.9L359.4 291.2L362.6 289.6L364.1 288.6L363.9 288.1L363.4 288L357.4 288.1L340.9 287.9L340.9 284L357.4 283.8L363.9 283.9L364.9 283.8L365.6 283.6L365.5 283.1L364.2 282.1L359.4 279.7L340.9 274.2L340.9 267.2L357.4 270.6L362.5 272.1L365.9 273.5L368.9 275L373.4 277.6L376.9 279.9L377.4 280L378.4 279.7L382.4 277L385.9 275L389.4 273.5L393.9 271.9L408.9 267.5L413.4 266.4L418.4 265.8L423.4 266L428.9 267.1L437.9 269.6L447.9 273.8L458.4 277.5L467.9 281.9L470.4 282.4L471.4 282.2L472.9 281.4L482.7 275.1L487.5 272.6L490.2 271.6L493.4 270.7L500.9 269.8L500.9 275.2L493.9 275.7L489.4 276.8L485.9 278.2L479.4 281.3L478.2 282.1L477.7 282.6L477.6 283.1L478.7 283.6L480.9 283.8L500.9 283.8L500.9 288.1L482.4 288.1L481.4 288.2L480.9 288.6L482.2 289.6L484 290.6L489.9 293.2L494.9 294.7L500.9 295.9L500.9 305.1L493.3 303.6L489.8 302.6L485.7 301.1L479.4 298.2L465.4 290.6L460 288.6L456.9 288L454 287.1L452.9 286.4L452.1 285.1L451.4 285L451.2 285.1L451.5 285.6L451.5 286.1L451.2 286.6L449.1 287.6L446.9 288.1L395.4 288.2L392.9 288.3L391.4 288.6L391.6 289.1L392.6 289.6L397.8 291.6L404.9 294.8L408.9 296.2L412.9 297.4L416.9 298.2L420.4 298.5L423.9 298.6L432.4 298.2L434.3 298.6L434.4 299.1L434.1 299.6L431.9 301.1L428 302.6L424.1 303.6L419.9 304.1L415.4 304.3L411.4 304L406.4 303.1L402.8 302.1L394.4 299L386.4 296.5L383.9 295.4L379.9 292.9L378.9 292.5L377.9 292.9L368.9 298.2L364.9 300.2L361.4 301.6L356.9 303.1L353.4 304.1L348.4 305L343.9 305.6ZM448.1 283.6L438.4 279.3L434.4 277.8L425.4 275.6L420.4 275L416.4 275.4L411.4 276.7L397.1 281.6L393.9 283.1L393.8 283.6L444.4 283.8L447.9 283.7L448.1 283.6Z" fill="#009eff" fill-rule="evenodd"/>
<path d="M342.4 305.6L340.9 305.7L340.9 296.4L347.9 295.4L353.4 293.8L360.4 290.8L363.7 289.1L365.1 288.1L364.9 287.7L364.4 287.6L357.4 287.7L340.9 287.4L340.9 284.5L357.4 284.2L364.9 284.4L366.5 284.1L366.5 283.6L365.4 282.6L362.4 280.8L359.9 279.7L340.9 273.9L340.9 267.4L344.5 268.1L357.9 271L361.9 272.1L365.4 273.5L368.4 274.9L373 277.6L376.4 279.8L377.4 280.2L378.4 279.8L382.9 276.8L386.1 275.1L389.6 273.6L394 272.1L409.4 267.6L413.4 266.6L417.9 266L422.6 266.1L428.3 267.1L434.1 268.6L438.4 269.9L447.4 273.7L457.9 277.4L467.4 281.9L469.9 282.7L471.4 282.9L474.9 282.6L476.4 283.6L477.9 284L479.4 284.1L500.9 284.2L500.9 287.7L481.9 287.7L480.4 287.8L480.1 288.1L480.4 288.6L481 289.1L482.7 290.1L489.4 293.1L494.9 294.9L500.9 296L500.9 305L496 304.1L491.9 303.1L484.9 300.6L479.5 298.1L469.9 292.8L464.9 290.2L460.9 288.6L455.7 287.1L454.8 286.6L453 285.1L452.1 284.6L446.9 282.8L436.4 278.3L432.9 277.2L426.9 275.8L423.4 275.1L420.4 274.9L416.4 275.3L411.9 276.4L396.9 281.5L394.4 282.6L392.7 283.6L392.9 283.9L394.4 284L446.9 284.2L449.3 285.1L449.9 285.6L450 286.1L449.7 286.6L448.8 287.1L446.9 287.7L393.9 287.9L390.1 288.1L389.9 288.6L391.8 289.6L397.2 291.6L405.9 295.4L411.4 297.3L415.4 298.2L418.9 298.8L422.4 299L428.9 299L430.7 299.6L430.8 300.1L430.5 300.6L428.9 301.6L426.1 302.6L421.9 303.5L417.9 303.9L413.9 303.9L410.4 303.6L405.5 302.6L401.9 301.5L394.4 298.7L385.9 296.1L382.9 294.6L379.7 292.6L378.9 292.4L377.9 292.8L372.4 296.1L367.9 298.6L364.4 300.3L359.9 302L355.9 303.3L351.9 304.3L347.4 305.1L342.4 305.6ZM478.4 280.6L477.4 280.8L477 280.6L477.6 279.6L480.1 277.6L483.8 275.1L486.5 273.6L488.8 272.6L491.9 271.5L496.4 270.7L500.9 270.2L500.9 274.8L494.9 275.1L490.9 275.8L487.9 276.8L481.5 279.6L478.4 280.6Z" fill="#00c0ff" fill-rule="evenodd"/>
<path d="M340.9 305.6L340.9 296.5L348.4 295.4L353.9 293.8L357.9 292.2L362.2 290.1L365.5 288.1L366.1 287.6L366.3 287.1L364.9 286.9L357.4 287.2L340.9 286.7L340.9 285.2L357.4 284.7L366.4 285L367.4 284.8L367.6 284.6L367.5 284.1L367.1 283.6L365.8 282.6L362.9 280.8L359.9 279.4L340.9 273.6L340.9 267.8L345.5 268.6L357.4 271.1L362.4 272.5L368.2 275.1L372.6 277.6L376.4 280.1L377.4 280.4L378.4 279.9L382.9 277L386.4 275.1L389.9 273.5L394.4 272.1L408.4 267.9L413.4 266.7L418.4 266.1L422.9 266.2L429.8 267.6L438.4 270L447.4 273.9L457.9 277.6L467.9 282.2L471.4 283.4L476.4 284.5L478.4 284.7L500.9 284.7L500.9 287.2L480.9 287.2L479.4 287.3L479.1 287.6L479.3 288.1L479.9 288.6L481.5 289.6L488.4 292.9L494.4 294.9L500.9 296.2L500.9 304.8L496.6 304.1L492.5 303.1L485.2 300.6L479.8 298.1L469.4 292.4L464.4 289.9L459.9 288L456.9 287L452.6 284.6L445.9 282.2L436.4 278.2L431.9 276.8L424.9 275.2L421.4 274.8L417.9 274.9L415.4 275.3L411.9 276.3L398.4 280.8L394 282.6L392.2 283.6L391.7 284.1L391.9 284.4L393.4 284.5L446.9 284.7L448.4 285.6L448.5 286.1L448.2 286.6L446.9 287.2L424.9 287.4L389.9 287.4L388.5 287.6L388.5 288.1L389.9 289.1L396.6 291.6L404.9 295.3L408.9 296.8L415.9 298.7L419.4 299.2L425.9 299.9L426.5 300.1L427 300.6L426.9 301.1L425.2 302.1L421.7 303.1L417.6 303.6L413.4 303.5L409.2 303.1L404.6 302.1L401.4 301.1L394.4 298.5L386.5 296.1L383.4 294.6L379.9 292.4L378.9 292.2L367.8 298.6L364.4 300.2L359.6 302.1L354.7 303.6L349.9 304.5L345.9 305.1L340.9 305.6ZM485.4 276.6L484.4 276.8L484.1 276.6L484.4 276.1L485.8 275.1L489.6 273.1L494.7 271.6L500.9 270.7L500.9 274.3L496.4 274.4L492.4 274.8L489.9 275.3L485.4 276.6Z" fill="#00e3ff" fill-rule="evenodd"/>
<path d="M345.4 305.1L340.9 305.4L340.9 296.6L344.9 296.1L349.4 295.3L352.9 294.3L356.4 292.9L361.4 290.6L365.9 288.1L368.5 286.1L369 285.6L368.9 285.1L368.2 284.1L366.3 282.6L363.4 280.8L360.4 279.4L357.4 278.3L340.9 273.2L340.9 268.1L343.9 268.6L357.4 271.4L361.8 272.6L367.7 275.1L372.2 277.6L376.4 280.3L377.4 280.5L385.9 275.4L389 274.1L393.4 272.5L408.5 268.1L412.9 266.9L417.9 266.2L422.9 266.4L429.2 267.6L438 270.1L447.9 274.2L457.5 277.6L468.9 282.8L476.4 285.4L478.4 285.8L479.9 285.9L500.9 285.9L500.9 286.1L479.4 286.1L478.4 286.2L477.8 286.6L477.8 287.1L478.2 287.6L480.3 289.1L483.4 290.8L487.9 292.8L493.9 294.9L500.9 296.3L500.9 304.7L493 303.1L489.6 302.1L485.6 300.6L480.1 298.1L469.4 292.2L464.4 289.7L456.9 286.6L453.2 284.6L444.9 281.6L435.9 277.9L430.9 276.4L424.4 275L420.9 274.6L417.9 274.8L414.9 275.3L411.4 276.3L396.4 281.4L391.8 283.6L390.4 284.6L390.2 285.1L390.9 285.2L425.4 285.2L442.3 285.6L446.9 285.9L447 286.1L434 286.6L424.9 286.7L391.4 286.7L388.9 286.4L387.9 286.5L387.1 287.1L387.2 287.6L387.6 288.1L389.2 289.1L397.1 292.1L406.4 296.2L412.9 298.4L422.4 300.6L422.9 301.1L422.8 301.6L422.1 302.1L419.9 302.7L416.4 303.1L411.9 303.1L408.3 302.6L403.9 301.6L394.9 298.4L385.9 295.6L383.8 294.6L379.4 292L377.9 292.5L373 295.6L368.5 298.1L361.9 301.1L357.7 302.6L354.2 303.6L349.4 304.5L345.4 305.1ZM500.9 273.5L496.5 273.1L496.6 272.6L497.9 272.1L500.9 271.5L500.9 273.5ZM357.9 286.1L356.9 286.1L357.9 286.1Z" fill="#06fff9" fill-rule="evenodd"/>
<path d="M343.9 305.1L340.9 305.3L340.9 296.8L345.4 296.2L349.4 295.4L352.9 294.4L355.9 293.3L360.4 291.2L365.4 288.6L369.2 286.1L369.7 285.6L369.7 285.1L368.1 283.6L366.4 282.3L360.9 279.3L356.9 277.8L350.9 276.1L340.9 272.7L340.9 268.5L344.4 269.1L356.9 271.6L362.4 273L366.1 274.6L369 276.1L376.9 280.8L377.4 280.7L378.4 280.2L383.2 277.1L386.4 275.3L390.6 273.6L395.2 272.1L409 268.1L413.9 266.9L419.4 266.3L422.4 266.4L424.9 266.8L430.6 268.1L437.6 270.1L447.4 274.2L457.1 277.6L474.4 285.4L475.9 286.2L478.4 288.1L480.9 289.6L487.4 292.8L493.4 294.9L500.9 296.5L500.9 304.5L493.6 303.1L488.6 301.6L483.6 299.6L479.5 297.6L469.9 292.3L463.9 289.3L456.9 286.2L453.7 284.6L445.2 281.6L437.4 278.3L432.9 276.8L426.4 275.2L422.4 274.6L419.4 274.5L416.4 274.9L412.4 275.8L396.4 281.3L391.5 283.6L386.4 287.1L386.4 287.6L386.9 288.1L389.9 289.7L396.4 292.1L406.9 296.8L418.2 300.6L418.8 301.1L418.8 301.6L418.1 302.1L415.4 302.6L411.4 302.6L407.7 302.1L403.4 301.1L394.4 297.9L386.6 295.6L384.4 294.6L380.3 292.1L379.4 291.8L377.9 292.4L372.8 295.6L368.3 298.1L361.6 301.1L357.3 302.6L353.4 303.6L348.4 304.6L343.9 305.1Z" fill="#29ffd6" fill-rule="evenodd"/>
<path d="M342.4 305.1L340.9 305.2L340.9 296.9L345.4 296.3L348.9 295.6L351.9 294.8L355.9 293.4L360.4 291.4L365.6 288.6L369.6 286.1L370.1 285.6L370.3 285.1L369.3 284.1L366.4 282L363.4 280.2L360.4 278.8L340.9 272.1L340.9 269.2L347.2 270.1L357.8 272.1L361.5 273.1L367.5 275.6L372 278.1L375.9 280.6L376.9 281L378.4 280.4L384.9 276.2L388.4 274.5L394 272.6L407.7 268.6L413.4 267.1L417.4 266.6L421.4 266.5L425.4 267L431.9 268.6L437.1 270.1L441 271.6L447.4 274.4L456.6 277.6L472.4 284.8L475.4 286.4L480.9 289.8L486.9 292.7L490.9 294.3L493.9 295.2L500.9 296.6L500.9 304.4L496.3 303.6L492.3 302.6L487.7 301.1L482.9 299.1L466.4 290.3L452.9 284.1L445.7 281.6L437.9 278.3L433.4 276.8L424.9 274.8L421.9 274.4L419.4 274.4L415.9 274.8L412.4 275.7L395.9 281.3L391.1 283.6L386 287.1L385.9 287.6L386.3 288.1L388.9 289.6L396.8 292.6L405.9 296.8L413.9 300.1L414.6 300.6L414.8 301.1L414.4 301.6L412.4 301.9L409.9 301.8L407.4 301.5L403 300.6L394.9 297.8L387.4 295.6L384 294.1L380.4 291.8L379.4 291.6L378.4 291.9L372.5 295.6L368 298.1L363.9 300L359.9 301.5L356.4 302.7L352.4 303.7L347.5 304.6L342.4 305.1Z" fill="#4cffb4" fill-rule="evenodd"/>
<path d="M345.9 304.6L340.9 305L340.9 297L348.9 295.8L352.4 294.8L355.4 293.7L359.9 291.7L365.9 288.6L369.9 286.1L370.5 285.6L370.8 285.1L369.9 284.1L367.4 282.3L361.4 278.9L358.9 277.8L349.2 274.6L343.3 272.1L342 271.1L342.1 270.6L342.9 270.4L346.4 270.6L355.6 272.1L358.3 272.6L361.9 273.6L367.7 276.1L372.2 278.6L375.9 280.9L376.9 281.2L377.9 280.8L382.9 277.6L386.4 275.6L390 274.1L394.4 272.5L410.1 268.1L414.4 267.1L419.4 266.6L424.8 267.1L429.4 268.1L436.6 270.1L440.6 271.6L447.9 274.7L456.2 277.6L460.9 279.6L471.9 284.8L481.4 290.2L486.9 292.9L493.4 295.2L500.9 296.8L500.9 304.2L492.9 302.6L488.1 301.1L483.3 299.1L479.2 297.1L466.9 290.4L452.9 283.9L446.2 281.6L437.4 277.9L433.9 276.7L424.9 274.6L421.9 274.2L419.4 274.2L415.9 274.7L411.9 275.7L395.4 281.4L390 284.1L386.2 286.6L385.6 287.1L385.4 287.6L386.4 288.6L388.4 289.7L397 293.1L408.3 298.6L410 299.6L410.5 300.1L410.4 300.6L408.9 300.9L406.9 300.8L401.4 299.6L394.9 297.4L387 295.1L383.8 293.6L380.4 291.5L379.4 291.4L378.4 291.8L368.7 297.6L362.3 300.6L354.6 303.1L349.8 304.1L345.9 304.6Z" fill="#6fff91" fill-rule="evenodd"/>
<path d="M344.9 304.6L340.9 304.9L340.9 297.2L348.9 295.9L351.4 295.3L355.4 293.9L359.9 291.9L365.9 288.7L370.2 286.1L371.2 285.1L370.9 284.4L369.4 283.2L363.9 279.7L359.9 277.7L350.1 274.1L348.4 273.1L348 272.6L348.3 272.1L350.9 272L355.5 272.6L358.5 273.1L362.1 274.1L367.9 276.6L372.4 279.1L375.9 281.3L376.4 281.4L377.9 281L382.3 278.1L385.7 276.1L391.8 273.6L410.7 268.1L414.9 267.2L418.4 266.8L422.4 266.9L426.5 267.6L434.3 269.6L438.9 271.1L447.4 274.7L455.7 277.6L460.5 279.6L471.9 285.1L480.9 290.2L487.4 293.3L493.4 295.4L500.9 296.9L500.9 304.1L495.6 303.1L491.7 302.1L487.3 300.6L482.6 298.6L466.4 289.9L453.4 283.9L445.3 281.1L437.4 277.7L433.4 276.4L424.4 274.4L421.9 274.1L419.4 274.1L416.4 274.4L412.4 275.4L395.4 281.3L392.9 282.3L389.7 284.1L385.9 286.6L385 287.6L385.4 288.3L387.9 289.9L395.9 293.1L401.9 296.1L405.1 298.1L405.6 298.6L405.7 299.1L405.4 299.3L404.4 299.5L401.7 299.1L388.1 295.1L385.6 294.1L380.9 291.4L379.9 291.1L378.4 291.6L372.9 295.1L368.4 297.6L361.9 300.6L357.6 302.1L354 303.1L349 304.1L344.9 304.6Z" fill="#8fff71" fill-rule="evenodd"/>
<path d="M342.9 304.6L340.9 304.7L340.9 297.3L345.4 296.8L349.4 296L351.9 295.3L355.9 293.8L360.4 291.8L365.9 288.8L370.5 286.1L371.6 285.1L371.6 284.6L370.9 283.8L364.9 279.7L361.4 277.8L356.2 275.6L354.4 274.6L354 274.1L354.4 273.6L357.5 273.6L360 274.1L363.3 275.1L367.9 277.1L372.4 279.6L375.4 281.4L376.4 281.7L377.9 281.1L382.5 278.1L385.9 276.1L390.7 274.1L395.4 272.6L409.4 268.5L413.9 267.5L418.4 267L421.9 267L425.7 267.6L431.9 269.1L438.4 271.1L446.9 274.7L455.1 277.6L460 279.6L471.4 285.1L480.9 290.4L486.9 293.3L490.9 294.8L493.9 295.7L500.9 297.1L500.9 303.9L496.4 303.1L492.4 302.1L487.8 300.6L483.1 298.6L467.4 290.2L453.9 283.8L445.9 281.1L437.9 277.7L433.4 276.2L424.9 274.3L421.9 273.9L419.4 273.9L415.9 274.3L412.4 275.2L395.9 280.9L392.4 282.4L389.4 284L385.6 286.6L384.6 287.6L384.6 288.1L385.9 289.3L388.9 290.9L394.4 293.1L397.5 294.6L400.4 296.6L400.7 297.1L400.4 297.2L399.4 297.3L397.9 297.1L389.8 295.1L385.6 293.6L380.9 290.9L379.9 290.9L378.4 291.5L372.7 295.1L368.2 297.6L364.4 299.4L361.5 300.6L357.2 302.1L353.4 303.1L348 304.1L342.9 304.6Z" fill="#aeff52" fill-rule="evenodd"/>
<path d="M340.9 304.6L340.9 297.5L348.9 296.2L351.9 295.4L355.4 294.2L359.9 292.2L365.4 289.3L370 286.6L371.9 285.1L372.2 284.6L372 284.1L371.4 283.5L362.3 277.1L361.7 276.6L361.5 276.1L363.1 276.1L366.1 277.1L370.4 279.1L375.4 281.9L376.4 281.9L377.9 281.3L385.3 276.6L391.2 274.1L410 268.6L414.6 267.6L418.4 267.1L421.9 267.2L425.9 267.8L433 269.6L437.8 271.1L446.9 274.9L455.9 278.1L459.5 279.6L470.9 285.1L481.4 290.9L487.4 293.7L493.4 295.8L500.9 297.3L500.9 303.7L495.1 302.6L491.4 301.6L487.1 300.1L482.5 298.1L466.9 289.7L454.4 283.8L446.5 281.1L437.4 277.3L433.9 276.2L425.4 274.2L422.4 273.8L419.4 273.7L415.9 274.2L411.9 275.2L395.9 280.8L392.4 282.3L389.4 283.9L385.4 286.6L384.3 287.6L384 288.1L384.1 288.6L384.9 289.4L387.9 291.2L392 293.1L393.4 294.1L393.3 294.6L391.1 294.6L387.5 293.6L385.1 292.6L381.4 290.6L380.4 290.5L378.4 291.3L372.4 295.1L367.9 297.6L363.9 299.4L359.8 301.1L354.9 302.6L350.1 303.6L346.4 304.1L340.9 304.6Z" fill="#ccff33" fill-rule="evenodd"/>
<path d="M344.9 304.1L340.9 304.4L340.9 297.7L346.9 296.8L351.4 295.7L356.9 293.7L362.9 290.8L369.4 287.1L372.3 285.1L372.8 284.1L372.8 283.6L371.2 281.6L371.4 281.1L374.9 282.4L376.4 282.2L377.9 281.5L385.6 276.6L391.6 274.1L410.8 268.6L415.4 267.6L418.4 267.3L422.4 267.4L426.2 268.1L434 270.1L438.5 271.6L446.9 275.2L455.2 278.1L460.1 280.1L470.4 285.1L480.9 290.9L486.9 293.7L492.9 295.9L496.9 296.8L500.9 297.5L500.9 303.5L496 302.6L492.1 301.6L487.7 300.1L483 298.1L467.4 289.7L458.4 285.3L453.9 283.4L445.8 280.6L437.9 277.3L433.4 275.8L424.9 273.9L419.9 273.5L416.4 273.9L412.4 274.9L397.9 279.9L392.9 281.9L388.9 284L385.1 286.6L384 287.6L382.6 289.6L378.9 290.9L370.4 296.1L363.3 299.6L359.3 301.1L354.2 302.6L349.2 303.6L344.9 304.1Z" fill="#ebff14" fill-rule="evenodd"/>
<path d="M342.9 304.1L340.9 304.2L340.9 297.9L345.9 297.2L350.4 296.2L354.4 294.9L359.4 292.7L365.9 289.3L370.4 286.6L372 285.6L374.4 283.3L377.4 281.9L385 277.1L389.3 275.1L395.3 273.1L409.6 269.1L413.9 268L418.4 267.5L421.4 267.6L425.1 268.1L431.3 269.6L437.9 271.6L446.4 275.3L455.9 278.6L459.5 280.1L470.8 285.6L482.4 291.9L487.4 294.2L493.9 296.4L500.9 297.7L500.9 303.3L497 302.6L491.3 301.1L487 299.6L482.5 297.6L467.9 289.7L458.9 285.3L454.4 283.3L446.5 280.6L437.4 276.9L433.9 275.7L425.4 273.8L422.4 273.4L419.9 273.3L415.9 273.8L411.9 274.8L397.4 279.9L392.9 281.7L389.9 283.2L386.9 285.1L384.2 287.1L382.4 288.7L381.4 289.4L378.9 290.7L370.1 296.1L362.9 299.6L357.3 301.6L353.5 302.6L348 303.6L342.9 304.1Z" fill="#fff400" fill-rule="evenodd"/>
<path d="M346.4 303.6L340.9 304L340.9 298.1L345.9 297.4L350.4 296.4L353.9 295.2L358.4 293.4L362.4 291.4L368.9 287.7L372.3 285.6L374.4 283.8L377.9 281.8L384.4 277.6L386.4 276.5L389.8 275.1L395.9 273.1L410.4 269.1L415.2 268.1L418.4 267.8L422.4 267.9L426.3 268.6L433.9 270.6L438.4 272.1L446.9 275.8L455 278.6L459.9 280.6L470.1 285.6L481.4 291.7L486.9 294.3L492.9 296.4L496.9 297.3L500.9 298L500.9 303L495.9 302.1L492.2 301.1L487.8 299.6L483.1 297.6L466.9 288.9L458.4 284.7L453.9 282.8L446 280.1L436.9 276.4L433.4 275.3L424.4 273.4L419.9 273.1L416.9 273.4L412.4 274.5L394.4 280.9L388.9 283.6L384.9 286.3L380.9 289.4L371.6 295.1L364.9 298.6L359.8 300.6L354.9 302L350 303.1L346.4 303.6Z" fill="#ffd300" fill-rule="evenodd"/>
<path d="M343.9 303.6L340.9 303.8L340.9 298.3L346.9 297.4L350.9 296.4L354.4 295.2L358.9 293.3L368.4 288.2L371.9 286.1L374.9 283.8L383.9 278.1L386.4 276.6L388.9 275.6L394.8 273.6L409.3 269.6L413.9 268.5L418.4 268L421.4 268.1L425 268.6L431.1 270.1L437.5 272.1L447.4 276.3L455.4 279.1L459 280.6L469.4 285.6L481.9 292.3L487.4 294.8L493.4 296.8L500.9 298.3L500.9 302.7L495.1 301.6L491.6 300.6L487.4 299.1L482.9 297.1L468.4 289.3L459.4 284.8L454.9 282.8L447 280.1L437.9 276.4L434.4 275.2L425.4 273.2L422.4 272.9L419.9 272.8L415.9 273.3L411.9 274.4L397.9 279.3L392.9 281.3L387.4 284.4L381.4 288.8L373 294.1L367.6 297.1L363.3 299.1L357.7 301.1L354.1 302.1L348.7 303.1L343.9 303.6Z" fill="#ffb200" fill-rule="evenodd"/>
<path d="M346.9 303.1L340.9 303.5L340.9 298.5L345.9 297.8L350.4 296.8L354.4 295.4L358.4 293.7L369.4 287.8L384.2 278.1L386.4 276.8L389.4 275.6L395.5 273.6L410.4 269.6L415.4 268.6L418.4 268.3L421.9 268.4L425.8 269.1L431.5 270.6L437.7 272.6L445.9 276.2L455.4 279.6L459 281.1L469.3 286.1L480.9 292.3L486.4 294.9L489.9 296.2L493.4 297.2L500.9 298.6L500.9 302.4L496.7 301.6L491.3 300.1L487.2 298.6L482.8 296.6L468.4 288.7L459.4 284.3L454.9 282.3L447 279.6L438.9 276.3L434.4 274.8L425.4 272.9L420.4 272.5L416.9 272.8L412.9 273.8L394.9 280.3L388.9 283.3L384.9 285.9L380.6 289.1L375.1 292.6L370 295.6L365.2 298.1L360.2 300.1L355.3 301.6L346.9 303.1Z" fill="#ff9100" fill-rule="evenodd"/>
<path d="M343.9 303.1L340.9 303.2L340.9 298.8L346.9 297.9L350.9 296.9L355.4 295.3L358.9 293.7L369.9 287.7L382.9 279.1L386.4 277L390 275.6L394.5 274.1L407.6 270.6L414.3 269.1L418.4 268.6L421.9 268.8L426.1 269.6L435.9 272.6L440.6 274.6L445.9 277.4L453.8 280.1L459.9 282.6L468.3 286.6L475.9 290.9L485.4 295.2L489.4 296.7L493.4 297.8L500.9 299L500.9 301.9L496.7 301.1L491.6 299.6L484.4 296.6L480.6 294.6L475.4 291.3L470.9 288.9L459.9 283.4L453.9 280.8L448.6 279.1L445.4 277.8L442.8 277.1L437.9 275.3L434.4 274.2L424.9 272.4L420.4 272.1L415.9 272.7L411.9 273.8L396.9 279.3L392.9 280.9L387.9 283.7L380.2 289.1L373.1 293.6L367.8 296.6L363.6 298.6L358 300.6L354.3 301.6L348.9 302.6L343.9 303.1Z" fill="#ff6e00" fill-rule="evenodd"/>
<path d="M346.4 302.6L340.9 302.9L340.9 299.2L346.4 298.3L350.4 297.3L354.4 295.9L358.4 294.2L368.4 288.8L372.4 286.4L384.1 278.6L386.4 277.2L389.3 276.1L397.3 273.6L409 270.6L415.4 269.3L418.9 269.1L423.1 269.6L426.9 270.6L429.1 271.6L428.4 272L422.4 271.6L418.9 271.7L415.4 272.4L410.9 273.7L395.9 279.4L390.9 281.7L387.4 283.8L380.4 288.7L374.4 292.6L369.3 295.6L364.4 298L360.4 299.6L355.4 301.1L350.3 302.1L346.4 302.6ZM500.9 301.1L498.9 300.6L498 300.1L498.9 299.9L500.9 299.9L500.9 301.1Z" fill="#ff4900" fill-rule="evenodd"/>
<path d="M347.4 302.1L340.9 302.4L340.9 299.6L345.9 298.8L350.4 297.7L354.4 296.2L358.9 294.2L370.4 287.9L384.5 278.6L386.4 277.5L389.9 276.1L396.4 274.1L408.9 271L415.4 270L417.6 270.1L418.5 270.6L417.5 271.1L411.9 272.8L404.1 276.1L396.4 278.9L392.4 280.7L387.9 283.2L379.5 289.1L374 292.6L368.8 295.6L364.4 297.8L361.1 299.1L356.3 300.6L351.4 301.5L347.4 302.1Z" fill="#ff2500" fill-rule="evenodd"/>
<path d="M347.9 301.6L343.9 301.7L341 301.6L340.9 300.5L350.9 297.9L354.9 296.3L359.4 294.2L369.4 288.7L383.3 279.6L385.8 278.1L388 277.1L392.2 275.6L397.8 274.1L407.3 272.1L408.9 271.9L409.9 272.1L409.8 272.6L409.2 273.1L407.4 274.1L394.9 279.2L389.9 281.7L374.4 292.1L369.3 295.1L364.4 297.5L356.9 300.1L352.4 301L347.9 301.6Z" fill="#ff0100" fill-rule="evenodd"/>
<path d="M351.4 300.6L347.9 300.6L347.6 300.6L347.4 300.1L357.9 295.3L367.9 289.9L372.9 286.9L383 280.1L386.4 278.1L390.2 276.6L395.3 275.1L400.5 274.1L402.9 273.8L404.2 274.1L403.9 274.6L402.3 275.6L393.9 279.3L389.9 281.4L373.9 292.1L365.9 296.6L362.3 298.1L357.5 299.6L354.9 300.1L351.4 300.6Z" fill="#d30000" fill-rule="evenodd"/>
<path d="M357.4 299.1L353.9 299.5L353.4 299.5L352.9 299.1L353.2 298.6L354.6 297.6L371.9 287.8L382 281.1L386.1 278.6L389.8 277.1L393.3 276.1L396.9 275.4L398.9 275.6L398.8 276.1L398.2 276.6L389.4 281.3L378 289.1L370 294.1L364.1 297.1L357.4 299.1Z" fill="#a60000" fill-rule="evenodd"/>
<path d="M358.9 298.1L357 298.1L356.9 297.6L358 296.6L359.5 295.6L364.3 292.6L371.9 288.2L385 279.6L387 278.6L389.8 277.6L392 277.1L394 277.1L394.1 277.6L392.2 279.1L378.9 288.1L371.8 292.6L364.4 296.5L361.3 297.6L358.9 298.1Z" fill="#7e0000" fill-rule="evenodd"/>
<path d="M361.9 296.6L360.9 296.6L360.8 296.1L361.6 295.1L364.4 293.1L371.9 288.8L385.9 279.6L388.9 278.6L389.4 278.6L389.9 278.8L390.1 279.1L389.8 279.6L386.8 282.1L375 290.1L370 293.1L365.4 295.6L364.3 296.1L361.9 296.6Z" fill="#5c0000" fill-rule="evenodd"/>
</g>
<rect x="341.5" y="298.9" width="3.8" height="3.8" fill="#bdbdbd" opacity="0.45"/><circle cx="343.4" cy="300.8" r="1.25" fill="#fff"/>
<rect x="350.1" y="297.4" width="3.8" height="3.8" fill="#bdbdbd" opacity="0.45"/><circle cx="352" cy="299.3" r="1.25" fill="#fff"/>
<rect x="358.7" y="294.4" width="3.8" height="3.8" fill="#bdbdbd" opacity="0.45"/><circle cx="360.6" cy="296.3" r="1.25" fill="#fff"/>
<rect x="367.3" y="290.1" width="3.8" height="3.8" fill="#bdbdbd" opacity="0.45"/><circle cx="369.2" cy="292" r="1.25" fill="#fff"/>
<rect x="375.9" y="284.7" width="3.8" height="3.8" fill="#bdbdbd" opacity="0.45"/><circle cx="377.8" cy="286.6" r="1.25" fill="#fff"/>
<rect x="384.4" y="279" width="3.8" height="3.8" fill="#bdbdbd" opacity="0.45"/><circle cx="386.3" cy="280.9" r="1.25" fill="#fff"/>
<rect x="393" y="275.1" width="3.8" height="3.8" fill="#bdbdbd" opacity="0.45"/><circle cx="394.9" cy="277" r="1.25" fill="#fff"/>
<rect x="401.6" y="272.4" width="3.8" height="3.8" fill="#bdbdbd" opacity="0.45"/><circle cx="403.5" cy="274.3" r="1.25" fill="#fff"/>
<rect x="410.2" y="269.7" width="3.8" height="3.8" fill="#bdbdbd" opacity="0.45"/><circle cx="412.1" cy="271.6" r="1.25" fill="#fff"/>
<rect x="418.8" y="268.5" width="3.8" height="3.8" fill="#bdbdbd" opacity="0.45"/><circle cx="420.7" cy="270.4" r="1.25" fill="#fff"/>
<rect x="427.4" y="269.9" width="3.8" height="3.8" fill="#bdbdbd" opacity="0.45"/><circle cx="429.3" cy="271.8" r="1.25" fill="#fff"/>
<rect x="436" y="272.4" width="3.8" height="3.8" fill="#bdbdbd" opacity="0.45"/><circle cx="437.9" cy="274.3" r="1.25" fill="#fff"/>
<rect x="444.6" y="276" width="3.8" height="3.8" fill="#bdbdbd" opacity="0.45"/><circle cx="446.5" cy="277.9" r="1.25" fill="#fff"/>
<rect x="453.2" y="279" width="3.8" height="3.8" fill="#bdbdbd" opacity="0.45"/><circle cx="455.1" cy="280.9" r="1.25" fill="#fff"/>
<rect x="461.8" y="282.9" width="3.8" height="3.8" fill="#bdbdbd" opacity="0.45"/><circle cx="463.7" cy="284.8" r="1.25" fill="#fff"/>
<rect x="470.4" y="287.3" width="3.8" height="3.8" fill="#bdbdbd" opacity="0.45"/><circle cx="472.2" cy="289.2" r="1.25" fill="#fff"/>
<rect x="478.9" y="292" width="3.8" height="3.8" fill="#bdbdbd" opacity="0.45"/><circle cx="480.8" cy="293.9" r="1.25" fill="#fff"/>
<rect x="487.5" y="295.8" width="3.8" height="3.8" fill="#bdbdbd" opacity="0.45"/><circle cx="489.4" cy="297.7" r="1.25" fill="#fff"/>
<rect x="496.1" y="298.1" width="3.8" height="3.8" fill="#bdbdbd" opacity="0.45"/><circle cx="498" cy="300" r="1.25" fill="#fff"/>
<rect x="341.5" y="269.3" width="3.8" height="3.8" fill="#bdbdbd" opacity="0.45"/><circle cx="343.4" cy="271.2" r="1.25" fill="#fff"/>
<rect x="350.1" y="271.6" width="3.8" height="3.8" fill="#bdbdbd" opacity="0.45"/><circle cx="352" cy="273.5" r="1.25" fill="#fff"/>
<rect x="358.7" y="273.9" width="3.8" height="3.8" fill="#bdbdbd" opacity="0.45"/><circle cx="360.6" cy="275.8" r="1.25" fill="#fff"/>
<rect x="367.3" y="278.2" width="3.8" height="3.8" fill="#bdbdbd" opacity="0.45"/><circle cx="369.2" cy="280.1" r="1.25" fill="#fff"/>
<rect x="375.9" y="284" width="3.8" height="3.8" fill="#bdbdbd" opacity="0.45"/><circle cx="377.8" cy="285.9" r="1.25" fill="#fff"/>
<rect x="384.4" y="289.8" width="3.8" height="3.8" fill="#bdbdbd" opacity="0.45"/><circle cx="386.3" cy="291.7" r="1.25" fill="#fff"/>
<rect x="393" y="292.9" width="3.8" height="3.8" fill="#bdbdbd" opacity="0.45"/><circle cx="394.9" cy="294.8" r="1.25" fill="#fff"/>
<rect x="401.6" y="296.3" width="3.8" height="3.8" fill="#bdbdbd" opacity="0.45"/><circle cx="403.5" cy="298.2" r="1.25" fill="#fff"/>
<rect x="410.2" y="298.7" width="3.8" height="3.8" fill="#bdbdbd" opacity="0.45"/><circle cx="412.1" cy="300.6" r="1.25" fill="#fff"/>
<rect x="418.8" y="299.4" width="3.8" height="3.8" fill="#bdbdbd" opacity="0.45"/><circle cx="420.7" cy="301.3" r="1.25" fill="#fff"/>
<rect x="427.4" y="298.3" width="3.8" height="3.8" fill="#bdbdbd" opacity="0.45"/><circle cx="429.3" cy="300.2" r="1.25" fill="#fff"/>
<rect x="436" y="295.8" width="3.8" height="3.8" fill="#bdbdbd" opacity="0.45"/><circle cx="437.9" cy="297.7" r="1.25" fill="#fff"/>
<rect x="444.6" y="292.1" width="3.8" height="3.8" fill="#bdbdbd" opacity="0.45"/><circle cx="446.5" cy="294" r="1.25" fill="#fff"/>
<rect x="453.2" y="289.1" width="3.8" height="3.8" fill="#bdbdbd" opacity="0.45"/><circle cx="455.1" cy="291" r="1.25" fill="#fff"/>
<rect x="461.8" y="285.5" width="3.8" height="3.8" fill="#bdbdbd" opacity="0.45"/><circle cx="463.7" cy="287.4" r="1.25" fill="#fff"/>
<rect x="470.4" y="281.2" width="3.8" height="3.8" fill="#bdbdbd" opacity="0.45"/><circle cx="472.2" cy="283.1" r="1.25" fill="#fff"/>
<rect x="478.9" y="276.5" width="3.8" height="3.8" fill="#bdbdbd" opacity="0.45"/><circle cx="480.8" cy="278.4" r="1.25" fill="#fff"/>
<rect x="487.5" y="272.4" width="3.8" height="3.8" fill="#bdbdbd" opacity="0.45"/><circle cx="489.4" cy="274.3" r="1.25" fill="#fff"/>
<rect x="496.1" y="270.8" width="3.8" height="3.8" fill="#bdbdbd" opacity="0.45"/><circle cx="498" cy="272.7" r="1.25" fill="#fff"/>
<text x="337.4" y="221.4" font-size="10" text-anchor="end">200</text>
<text x="337.4" y="255.3" font-size="10" text-anchor="end">100</text>
<text x="337.4" y="289.2" font-size="10" text-anchor="end">0</text>
<text x="337.4" y="323.1" font-size="10" text-anchor="end">−100</text>
<text x="337.4" y="357.1" font-size="10" text-anchor="end">−200</text>
<text x="367.7" y="373.5" font-size="10" text-anchor="middle">0.19</text>
<text x="400.1" y="373.5" font-size="10" text-anchor="middle">0.38</text>
<text x="432.6" y="373.5" font-size="10" text-anchor="middle">0.57</text>
<text x="465.1" y="373.5" font-size="10" text-anchor="middle">0.76</text>
<text x="497.5" y="373.5" font-size="10" text-anchor="middle">0.95</text>
<text x="421" y="383.4" font-size="9.6" text-anchor="middle">Time(s)</text>
<text transform="translate(315 286.3) rotate(-90)" font-size="10.1" text-anchor="middle">Frequency(Hz)</text>
<text x="508.8" y="380.4" font-size="9.8">(d)</text>
<rect x="506.5" y="357.84" width="10.9" height="5.06" fill="#000075"/>
<rect x="506.5" y="353.09" width="10.9" height="5.06" fill="#00008c"/>
<rect x="506.5" y="348.33" width="10.9" height="5.06" fill="#0000a9"/>
<rect x="506.5" y="343.58" width="10.9" height="5.06" fill="#0000ca"/>
<rect x="506.5" y="338.82" width="10.9" height="5.06" fill="#0000eb"/>
<rect x="506.5" y="334.06" width="10.9" height="5.06" fill="#000eff"/>
<rect x="506.5" y="329.31" width="10.9" height="5.06" fill="#0032ff"/>
<rect x="506.5" y="324.55" width="10.9" height="5.06" fill="#0057ff"/>
<rect x="506.5" y="319.79" width="10.9" height="5.06" fill="#007bff"/>
<rect x="506.5" y="315.04" width="10.9" height="5.06" fill="#009eff"/>
<rect x="506.5" y="310.28" width="10.9" height="5.06" fill="#00c0ff"/>
<rect x="506.5" y="305.53" width="10.9" height="5.06" fill="#00e3ff"/>
<rect x="506.5" y="300.77" width="10.9" height="5.06" fill="#06fff9"/>
<rect x="506.5" y="296.01" width="10.9" height="5.06" fill="#29ffd6"/>
<rect x="506.5" y="291.26" width="10.9" height="5.06" fill="#4cffb4"/>
<rect x="506.5" y="286.50" width="10.9" height="5.06" fill="#6fff91"/>
<rect x="506.5" y="281.74" width="10.9" height="5.06" fill="#8fff71"/>
<rect x="506.5" y="276.99" width="10.9" height="5.06" fill="#aeff52"/>
<rect x="506.5" y="272.23" width="10.9" height="5.06" fill="#ccff33"/>
<rect x="506.5" y="267.48" width="10.9" height="5.06" fill="#ebff14"/>
<rect x="506.5" y="262.72" width="10.9" height="5.06" fill="#fff400"/>
<rect x="506.5" y="257.96" width="10.9" height="5.06" fill="#ffd300"/>
<rect x="506.5" y="253.21" width="10.9" height="5.06" fill="#ffb200"/>
<rect x="506.5" y="248.45" width="10.9" height="5.06" fill="#ff9100"/>
<rect x="506.5" y="243.69" width="10.9" height="5.06" fill="#ff6e00"/>
<rect x="506.5" y="238.94" width="10.9" height="5.06" fill="#ff4900"/>
<rect x="506.5" y="234.18" width="10.9" height="5.06" fill="#ff2500"/>
<rect x="506.5" y="229.43" width="10.9" height="5.06" fill="#ff0100"/>
<rect x="506.5" y="224.67" width="10.9" height="5.06" fill="#d30000"/>
<rect x="506.5" y="219.91" width="10.9" height="5.06" fill="#a60000"/>
<rect x="506.5" y="215.16" width="10.9" height="5.06" fill="#7e0000"/>
<rect x="506.5" y="210.40" width="10.9" height="5.06" fill="#5c0000"/>
<text x="520.8" y="214.3" font-size="9.2">35.50</text>
<line x1="515.9" y1="211.2" x2="517.4" y2="211.2" stroke="#222" stroke-width="0.6"/>
<text x="520.8" y="244.5" font-size="9.2">26.40</text>
<line x1="515.9" y1="241.4" x2="517.4" y2="241.4" stroke="#222" stroke-width="0.6"/>
<text x="520.8" y="274.7" font-size="9.2">17.30</text>
<line x1="515.9" y1="271.6" x2="517.4" y2="271.6" stroke="#222" stroke-width="0.6"/>
<text x="520.8" y="304.9" font-size="9.2">8.20</text>
<line x1="515.9" y1="301.8" x2="517.4" y2="301.8" stroke="#222" stroke-width="0.6"/>
<text x="520.8" y="335.1" font-size="9.2">−0.90</text>
<line x1="515.9" y1="332" x2="517.4" y2="332" stroke="#222" stroke-width="0.6"/>
<text x="520.8" y="365.3" font-size="9.2">−10.00</text>
<line x1="515.9" y1="362.2" x2="517.4" y2="362.2" stroke="#222" stroke-width="0.6"/>
<text x="512.8" y="204.2" font-size="9.6" text-anchor="middle">dB</text>
<text x="378.3" y="246.3" font-size="9.6" font-weight="bold" fill="#fff">Point 1</text>
<line x1="390.1" y1="248.6" x2="403.4" y2="270.2" stroke="#fff" stroke-width="1.1"/>
<path d="M404.9 272.7 L399.8 268.8 L402.6 268.9 L403.7 266.4Z" fill="#fff"/>
<text x="415.8" y="242.1" font-size="9.6" font-weight="bold" fill="#fff">Point 3</text>
<line x1="422.6" y1="246.3" x2="436.5" y2="269.3" stroke="#fff" stroke-width="1.1"/>
<path d="M438 271.8 L432.9 267.9 L435.7 268 L436.9 265.5Z" fill="#fff"/>
<text x="450.1" y="252.2" font-size="9.6" font-weight="bold" fill="#fff">Point 6</text>
<line x1="457.2" y1="256" x2="471" y2="279.5" stroke="#fff" stroke-width="1.1"/>
<path d="M472.5 282.1 L467.5 278.1 L470.2 278.3 L471.5 275.8Z" fill="#fff"/>
<text x="370.9" y="324" font-size="9.6" font-weight="bold" fill="#fff">Point 2</text>
<line x1="389.2" y1="316" x2="403.6" y2="301.6" stroke="#fff" stroke-width="1.1"/>
<path d="M405.7 299.5 L403.1 305.3 L402.6 302.6 L399.9 302.1Z" fill="#fff"/>
<text x="412.9" y="329" font-size="9.6" font-weight="bold" fill="#fff">Point 4</text>
<line x1="422.6" y1="318.9" x2="437.7" y2="302.5" stroke="#fff" stroke-width="1.1"/>
<path d="M439.7 300.3 L437.3 306.3 L436.7 303.6 L434 303.2Z" fill="#fff"/>
<text x="450.7" y="321" font-size="9.6" font-weight="bold" fill="#fff">Point 5</text>
<line x1="457.2" y1="310.7" x2="470.7" y2="295.7" stroke="#fff" stroke-width="1.1"/>
<path d="M472.7 293.5 L470.4 299.5 L469.7 296.9 L467 296.4Z" fill="#fff"/>
</svg>
</body></html>
